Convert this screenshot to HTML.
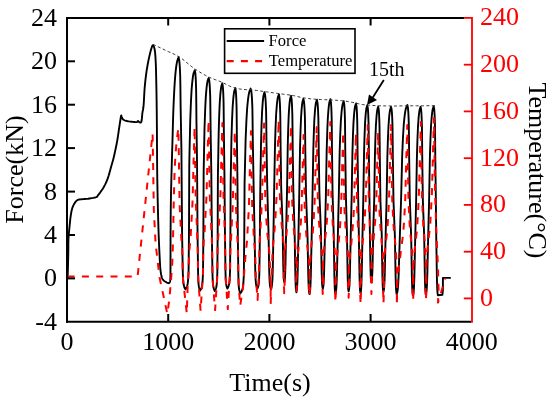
<!DOCTYPE html>
<html><head><meta charset="utf-8"><title>Force and Temperature vs Time</title>
<style>html,body{margin:0;padding:0;background:#fff;}svg{display:block;}</style>
</head><body>
<svg width="550" height="401" viewBox="0 0 550 401">
<rect width="550" height="401" fill="#fff"/>
<polyline points="67.60,278.20 67.66,276.57 67.74,274.28 67.83,271.60 67.92,268.75 68.00,266.00 68.07,263.31 68.13,260.51 68.19,257.66 68.25,254.80 68.30,252.00 68.33,249.25 68.34,246.53 68.35,243.81 68.40,241.11 68.50,238.40 68.68,235.62 68.92,232.78 69.19,229.97 69.46,227.31 69.70,224.90 69.90,222.79 70.09,220.90 70.27,219.18 70.47,217.53 70.70,215.90 70.95,214.27 71.21,212.70 71.50,211.18 71.82,209.75 72.20,208.40 72.65,207.13 73.15,205.93 73.69,204.82 74.25,203.80 74.80,202.90 75.35,202.12 75.90,201.44 76.46,200.87 77.03,200.39 77.60,200.00 78.10,199.73 78.53,199.60 79.00,199.54 79.62,199.49 80.50,199.40 81.69,199.28 83.14,199.17 84.73,199.04 86.38,198.89 88.00,198.70 89.70,198.45 91.55,198.16 93.37,197.84 94.98,197.51 96.20,197.20 96.91,196.94 97.22,196.71 97.33,196.46 97.42,196.14 97.70,195.70 98.17,195.11 98.72,194.42 99.30,193.64 99.91,192.83 100.50,192.00 101.09,191.17 101.70,190.31 102.30,189.41 102.91,188.48 103.50,187.50 104.08,186.48 104.65,185.42 105.22,184.32 105.77,183.18 106.30,182.00 106.80,180.80 107.28,179.59 107.75,178.33 108.22,176.98 108.70,175.50 109.19,173.86 109.69,172.08 110.20,170.22 110.70,168.34 111.20,166.50 111.70,164.72 112.21,162.97 112.71,161.21 113.21,159.40 113.70,157.50 114.18,155.46 114.67,153.31 115.14,151.13 115.59,149.00 116.00,147.00 116.37,145.19 116.70,143.50 117.01,141.88 117.30,140.23 117.60,138.50 117.89,136.65 118.18,134.72 118.46,132.78 118.73,130.85 119.00,129.00 119.27,127.18 119.55,125.36 119.81,123.60 120.07,121.96 120.30,120.50 120.51,119.16 120.69,117.89 120.87,116.79 121.03,115.96 121.20,115.50 121.35,115.53 121.47,115.98 121.60,116.68 121.76,117.41 122.00,118.00 122.29,118.44 122.62,118.87 123.00,119.28 123.45,119.66 124.00,120.00 124.64,120.30 125.36,120.56 126.16,120.79 127.04,121.00 128.00,121.20 129.12,121.40 130.40,121.59 131.72,121.76 132.96,121.90 134.00,122.00 134.82,122.07 135.51,122.11 136.09,122.11 136.58,122.08 137.00,122.00 137.32,121.83 137.52,121.57 137.67,121.29 137.81,121.08 138.00,121.00 138.25,121.11 138.53,121.36 138.81,121.68 139.11,121.98 139.40,122.20 139.70,122.36 140.03,122.52 140.35,122.62 140.64,122.63 140.90,122.50 141.11,122.25 141.28,121.92 141.42,121.46 141.56,120.83 141.70,120.00 141.84,118.90 141.96,117.56 142.09,116.07 142.23,114.52 142.40,113.00 142.61,111.67 142.85,110.46 143.10,109.15 143.36,107.50 143.60,105.30 143.82,102.34 144.01,98.77 144.21,94.89 144.44,91.00 144.70,87.40 145.01,84.08 145.34,80.85 145.70,77.70 146.09,74.65 146.50,71.70 146.94,68.83 147.42,66.03 147.91,63.35 148.41,60.79 148.90,58.40 149.39,56.13 149.89,53.96 150.38,51.95 150.86,50.18 151.30,48.70 151.70,47.47 152.06,46.45 152.41,45.70 152.75,45.30 153.10,45.30 153.47,45.74 153.86,46.57 154.24,47.76 154.60,49.25 154.90,51.00 155.14,53.04 155.34,55.39 155.51,58.02 155.66,60.91 155.80,64.00 155.93,67.43 156.04,71.22 156.13,75.19 156.22,79.14 156.30,82.90 156.37,86.26 156.43,89.35 156.49,92.46 156.54,95.91 156.60,100.00 156.66,104.52 156.72,109.26 156.77,114.55 156.83,120.69 156.90,128.00 156.96,136.90 157.01,147.17 157.08,158.19 157.17,169.34 157.30,180.00 157.49,190.42 157.71,201.01 157.97,211.39 158.23,221.18 158.50,230.00 158.78,237.92 159.08,245.20 159.38,251.72 159.66,257.36 159.90,262.00 160.08,265.33 160.22,267.42 160.33,268.76 160.45,269.79 160.60,271.00 160.77,272.36 160.96,273.56 161.16,274.63 161.37,275.60 161.60,276.50 161.82,277.31 162.03,278.02 162.27,278.64 162.58,279.23 163.00,279.80 163.59,280.38 164.31,280.93 165.09,281.45 165.85,281.92 166.50,282.30 167.06,282.60 167.58,282.82 168.04,282.98 168.42,283.10 168.70,283.20 168.87,283.06 169.13,282.90 169.41,282.67 169.69,282.32 169.90,281.80 170.05,281.25 170.17,280.71 170.26,279.96 170.34,278.80 170.40,277.00 170.45,274.59 170.47,271.70 170.48,268.32 170.49,264.43 170.50,260.00 170.52,254.83 170.53,248.94 170.55,242.62 170.57,236.21 170.60,230.00 170.64,224.00 170.69,218.00 170.74,212.00 170.81,206.00 170.90,200.00 171.01,194.00 171.14,188.00 171.29,182.00 171.44,176.00 171.60,170.00 171.77,163.97 171.95,157.90 172.14,151.86 172.32,145.87 172.50,140.00 172.66,134.21 172.81,128.46 172.96,122.82 173.12,117.31 173.30,112.00 173.50,106.82 173.71,101.73 173.94,96.83 174.17,92.22 174.40,88.00 174.63,84.18 174.87,80.71 175.11,77.55 175.35,74.66 175.60,72.00 175.85,69.62 176.10,67.54 176.35,65.69 176.62,64.03 176.90,62.50 177.23,61.07 177.60,59.79 177.96,58.67 178.28,57.77 178.50,57.10 178.53,57.22 178.61,57.58 178.76,58.18 178.95,59.02 179.21,60.10 179.34,61.41 179.50,62.95 179.64,64.72 179.79,66.72 179.90,68.93 180.01,71.37 180.13,74.01 180.24,76.86 180.28,79.91 180.34,83.15 180.39,86.58 180.44,90.19 180.48,93.97 180.53,97.92 180.57,102.02 180.62,106.27 180.70,110.66 180.78,115.17 180.87,119.81 180.95,124.56 181.04,129.41 181.13,134.35 181.23,139.38 181.32,144.47 181.42,149.62 181.47,154.82 181.51,160.06 181.55,165.32 181.59,170.61 181.63,175.89 181.67,181.18 181.71,186.44 181.75,191.68 181.79,196.88 181.83,202.03 181.87,207.12 181.91,212.15 181.94,217.09 181.98,221.94 182.02,226.69 182.05,231.32 182.13,235.84 182.21,240.23 182.28,244.48 182.36,248.58 182.43,252.53 182.49,256.31 182.56,259.92 182.62,263.35 182.68,266.59 182.73,269.64 182.80,272.49 182.90,275.13 183.00,277.57 183.11,279.78 183.31,281.78 183.49,283.55 183.76,285.09 184.12,286.40 184.43,287.48 184.85,288.32 185.16,288.92 185.34,289.28 185.40,289.40 185.47,289.29 185.68,288.95 186.04,288.38 186.53,287.59 186.91,286.57 187.31,285.34 187.67,283.88 187.85,282.21 188.06,280.33 188.23,278.23 188.34,275.94 188.47,273.44 188.59,270.76 188.62,267.88 188.65,264.82 188.68,261.58 188.72,258.18 188.75,254.61 188.79,250.88 188.83,247.01 188.87,243.00 188.92,238.86 188.96,234.60 189.00,230.22 189.02,225.74 189.04,221.17 189.06,216.50 189.07,211.76 189.09,206.96 189.11,202.10 189.13,197.19 189.16,192.25 189.18,187.28 189.20,182.29 189.22,177.31 189.24,172.32 189.26,167.35 189.31,162.41 189.42,157.50 189.52,152.64 189.63,147.84 189.73,143.10 189.84,138.43 189.94,133.86 190.04,129.38 190.13,125.00 190.23,120.74 190.38,116.60 190.53,112.59 190.68,108.72 190.82,104.99 190.97,101.42 191.15,98.02 191.32,94.78 191.49,91.72 191.65,88.84 191.90,86.16 192.13,83.66 192.34,81.37 192.58,79.27 192.84,77.39 193.09,75.72 193.36,74.26 193.63,73.03 194.05,72.01 194.38,71.22 194.61,70.65 194.75,70.31 194.80,70.20 194.82,70.31 194.88,70.66 194.99,71.23 195.13,72.02 195.32,73.04 195.43,74.29 195.54,75.75 195.65,77.43 195.76,79.32 195.86,81.43 195.94,83.73 196.02,86.24 196.12,88.95 196.16,91.84 196.19,94.92 196.23,98.17 196.27,101.59 196.31,105.18 196.34,108.93 196.37,112.82 196.41,116.85 196.45,121.01 196.51,125.30 196.57,129.70 196.64,134.21 196.70,138.81 196.77,143.50 196.83,148.26 196.90,153.09 196.97,157.98 197.04,162.91 197.09,167.88 197.12,172.88 197.15,177.89 197.19,182.91 197.22,187.92 197.26,192.92 197.29,197.89 197.32,202.82 197.36,207.71 197.39,212.54 197.42,217.30 197.46,221.99 197.49,226.59 197.52,231.10 197.57,235.50 197.63,239.79 197.68,243.95 197.74,247.98 197.79,251.87 197.84,255.62 197.89,259.21 197.94,262.63 197.98,265.88 198.02,268.96 198.06,271.85 198.13,274.56 198.20,277.07 198.27,279.37 198.38,281.48 198.52,283.37 198.65,285.05 198.89,286.51 199.15,287.76 199.39,288.78 199.70,289.57 199.92,290.14 200.06,290.49 200.10,290.60 200.16,290.49 200.35,290.16 200.66,289.61 201.10,288.84 201.46,287.86 201.81,286.66 202.16,285.24 202.32,283.62 202.51,281.80 202.67,279.77 202.77,277.54 202.89,275.12 203.01,272.51 203.04,269.72 203.06,266.75 203.09,263.61 203.13,260.30 203.16,256.84 203.19,253.23 203.23,249.47 203.27,245.58 203.30,241.56 203.34,237.43 203.38,233.18 203.40,228.83 203.42,224.39 203.44,219.86 203.46,215.27 203.48,210.60 203.50,205.89 203.52,201.13 203.54,196.33 203.56,191.51 203.58,186.67 203.60,181.83 203.62,176.99 203.64,172.17 203.73,167.37 203.83,162.61 203.92,157.90 204.02,153.23 204.11,148.64 204.20,144.11 204.29,139.67 204.38,135.32 204.46,131.07 204.56,126.94 204.70,122.92 204.84,119.03 204.97,115.27 205.10,111.66 205.24,108.20 205.40,104.89 205.56,101.75 205.70,98.78 205.87,95.99 206.09,93.38 206.29,90.96 206.48,88.73 206.70,86.70 206.93,84.88 207.16,83.26 207.40,81.84 207.66,80.64 208.03,79.66 208.32,78.89 208.53,78.34 208.66,78.01 208.70,77.90 208.72,78.01 208.79,78.34 208.91,78.89 209.07,79.66 209.28,80.65 209.41,81.85 209.54,83.27 209.66,84.89 209.79,86.72 209.90,88.75 209.99,90.99 210.09,93.41 210.19,96.03 210.25,98.82 210.29,101.80 210.34,104.94 210.38,108.26 210.42,111.72 210.46,115.34 210.50,119.11 210.54,123.00 210.58,127.03 210.64,131.17 210.71,135.43 210.78,139.79 210.85,144.24 210.92,148.77 211.00,153.38 211.08,158.05 211.15,162.77 211.23,167.54 211.31,172.35 211.35,177.18 211.39,182.02 211.43,186.88 211.48,191.72 211.52,196.55 211.56,201.36 211.60,206.13 211.64,210.85 211.69,215.52 211.73,220.13 211.77,224.66 211.81,229.11 211.85,233.47 211.91,237.72 211.98,241.87 212.04,245.90 212.10,249.79 212.16,253.56 212.22,257.18 212.27,260.64 212.33,263.96 212.38,267.10 212.42,270.08 212.47,272.87 212.55,275.49 212.63,277.91 212.71,280.15 212.84,282.18 213.01,284.01 213.15,285.63 213.44,287.05 213.72,288.25 214.01,289.24 214.35,290.01 214.60,290.56 214.75,290.89 214.80,291.00 214.85,290.89 215.01,290.57 215.28,290.03 215.65,289.28 215.97,288.32 216.27,287.15 216.58,285.77 216.72,284.19 216.88,282.40 217.03,280.42 217.12,278.25 217.22,275.88 217.32,273.33 217.36,270.61 217.38,267.71 217.41,264.64 217.43,261.41 217.46,258.03 217.49,254.51 217.52,250.84 217.55,247.04 217.58,243.11 217.62,239.07 217.65,234.93 217.68,230.68 217.69,226.34 217.71,221.93 217.73,217.44 217.75,212.88 217.77,208.28 217.78,203.63 217.80,198.95 217.82,194.24 217.84,189.51 217.86,184.79 217.88,180.06 217.92,175.35 218.00,170.67 218.09,166.02 218.17,161.42 218.25,156.86 218.33,152.37 218.40,147.96 218.48,143.62 218.55,139.37 218.63,135.22 218.73,131.19 218.85,127.26 218.96,123.46 219.07,119.79 219.18,116.27 219.31,112.89 219.45,109.66 219.58,106.59 219.70,103.69 219.86,100.97 220.05,98.42 220.22,96.05 220.38,93.88 220.58,91.90 220.78,90.11 220.98,88.53 221.18,87.15 221.41,85.98 221.73,85.02 221.98,84.27 222.16,83.73 222.26,83.41 222.30,83.30 222.32,83.41 222.37,83.73 222.47,84.26 222.60,85.00 222.76,85.95 222.89,87.11 222.99,88.47 223.09,90.03 223.19,91.80 223.29,93.76 223.36,95.91 223.44,98.24 223.52,100.76 223.59,103.46 223.62,106.32 223.66,109.35 223.69,112.54 223.73,115.89 223.76,119.37 223.79,123.00 223.82,126.75 223.85,130.63 223.89,134.62 223.95,138.72 224.01,142.92 224.06,147.21 224.12,151.57 224.18,156.01 224.25,160.51 224.31,165.07 224.37,169.66 224.43,174.29 224.49,178.94 224.53,183.61 224.57,188.29 224.61,192.96 224.65,197.61 224.69,202.24 224.72,206.83 224.76,211.39 224.80,215.89 224.84,220.33 224.88,224.69 224.91,228.98 224.96,233.18 225.01,237.27 225.07,241.27 225.12,245.15 225.17,248.90 225.21,252.53 225.26,256.01 225.30,259.36 225.34,262.55 225.38,265.58 225.42,268.44 225.47,271.14 225.54,273.66 225.60,275.99 225.66,278.14 225.79,280.10 225.92,281.87 226.04,283.43 226.29,284.79 226.52,285.95 226.76,286.90 227.04,287.64 227.24,288.17 227.36,288.49 227.40,288.60 227.45,288.50 227.62,288.18 227.89,287.67 228.27,286.94 228.60,286.01 228.91,284.88 229.26,283.55 229.41,282.02 229.57,280.30 229.73,278.39 229.82,276.29 229.92,274.01 230.03,271.55 230.09,268.91 230.11,266.12 230.14,263.15 230.16,260.04 230.19,256.78 230.22,253.37 230.25,249.83 230.28,246.16 230.32,242.37 230.35,238.47 230.39,234.47 230.42,230.37 230.44,226.19 230.46,221.92 230.48,217.59 230.50,213.19 230.53,208.75 230.55,204.26 230.57,199.74 230.59,195.19 230.61,190.63 230.63,186.07 230.66,181.51 230.75,176.96 230.83,172.44 230.91,167.95 231.00,163.51 231.08,159.11 231.16,154.78 231.24,150.51 231.31,146.33 231.39,142.23 231.46,138.22 231.59,134.33 231.71,130.54 231.83,126.87 231.94,123.33 232.05,119.92 232.20,116.66 232.34,113.55 232.47,110.58 232.60,107.79 232.78,105.15 232.97,102.69 233.15,100.41 233.31,98.31 233.52,96.40 233.72,94.68 233.94,93.15 234.14,91.82 234.40,90.69 234.72,89.76 234.97,89.03 235.16,88.52 235.26,88.20 235.30,88.10 235.32,88.21 235.37,88.53 235.47,89.06 235.60,89.80 235.76,90.75 235.89,91.91 235.99,93.27 236.09,94.83 236.19,96.60 236.29,98.56 236.36,100.71 236.44,103.04 236.52,105.56 236.59,108.26 236.62,111.12 236.66,114.15 236.69,117.34 236.73,120.69 236.76,124.17 236.79,127.80 236.82,131.55 236.85,135.43 236.89,139.42 236.95,143.52 237.01,147.72 237.06,152.01 237.12,156.37 237.18,160.81 237.25,165.31 237.31,169.87 237.37,174.46 237.43,179.09 237.49,183.74 237.52,188.41 237.55,193.09 237.58,197.76 237.61,202.41 237.64,207.04 237.67,211.63 237.70,216.19 237.73,220.69 237.76,225.13 237.79,229.49 237.81,233.78 237.86,237.98 237.91,242.07 237.97,246.07 238.02,249.95 238.07,253.70 238.11,257.33 238.16,260.81 238.20,264.16 238.24,267.35 238.28,270.38 238.32,273.24 238.37,275.94 238.44,278.46 238.50,280.79 238.56,282.94 238.69,284.90 238.82,286.67 238.94,288.23 239.19,289.59 239.42,290.75 239.66,291.70 239.94,292.44 240.14,292.97 240.26,293.29 240.30,293.40 240.37,293.29 240.59,292.98 240.96,292.45 241.47,291.71 241.91,290.76 242.32,289.60 242.77,288.24 242.96,286.68 243.17,284.92 243.38,282.97 243.51,280.82 243.64,278.49 243.78,275.98 243.84,273.29 243.87,270.43 243.91,267.41 243.95,264.23 243.98,260.89 244.02,257.41 244.07,253.80 244.11,250.05 244.15,246.18 244.20,242.20 244.25,238.11 244.29,233.92 244.31,229.65 244.34,225.29 244.36,220.86 244.39,216.38 244.41,211.83 244.44,207.25 244.47,202.63 244.49,197.99 244.52,193.33 244.55,188.67 244.57,184.01 244.66,179.37 244.77,174.75 244.88,170.17 245.00,165.62 245.10,161.14 245.21,156.71 245.32,152.35 245.42,148.08 245.52,143.89 245.62,139.80 245.77,135.82 245.94,131.95 246.09,128.20 246.25,124.59 246.40,121.11 246.58,117.77 246.77,114.59 246.95,111.57 247.12,108.71 247.34,106.02 247.60,103.51 247.84,101.18 248.06,99.03 248.33,97.08 248.60,95.32 248.88,93.76 249.16,92.40 249.49,91.24 249.92,90.29 250.26,89.55 250.51,89.02 250.65,88.71 250.70,88.60 250.72,88.70 250.80,89.01 250.91,89.53 251.08,90.25 251.29,91.18 251.46,92.31 251.59,93.64 251.73,95.16 251.85,96.88 251.99,98.79 252.08,100.89 252.18,103.17 252.29,105.62 252.38,108.25 252.43,111.04 252.47,113.99 252.52,117.10 252.57,120.36 252.61,123.76 252.65,127.29 252.69,130.95 252.73,134.73 252.77,138.62 252.84,142.62 252.91,146.71 252.99,150.89 253.07,155.15 253.14,159.47 253.22,163.86 253.30,168.29 253.38,172.77 253.46,177.29 253.54,181.82 253.63,186.37 253.72,190.93 253.81,195.48 253.90,200.01 253.99,204.53 254.08,209.01 254.17,213.44 254.25,217.83 254.34,222.15 254.42,226.41 254.51,230.59 254.58,234.68 254.66,238.67 254.73,242.57 254.80,246.35 254.87,250.01 254.93,253.54 254.99,256.94 255.05,260.20 255.11,263.31 255.17,266.26 255.22,269.05 255.28,271.68 255.38,274.13 255.46,276.41 255.54,278.51 255.69,280.42 255.83,282.14 255.95,283.66 256.23,284.99 256.47,286.12 256.73,287.05 257.03,287.77 257.23,288.29 257.36,288.60 257.40,288.70 257.44,288.60 257.56,288.29 257.75,287.78 258.02,287.08 258.27,286.17 258.49,285.06 258.75,283.75 258.86,282.25 258.99,280.57 259.12,278.69 259.20,276.63 259.28,274.40 259.37,271.99 259.43,269.41 259.47,266.66 259.50,263.76 259.54,260.71 259.58,257.51 259.62,254.17 259.66,250.70 259.71,247.11 259.75,243.40 259.80,239.57 259.85,235.65 259.89,231.63 259.94,227.53 259.97,223.35 260.01,219.10 260.06,214.80 260.10,210.44 260.14,206.04 260.18,201.61 260.22,197.15 260.26,192.69 260.30,188.21 260.36,183.75 260.44,179.29 260.51,174.86 260.58,170.46 260.66,166.10 260.73,161.80 260.80,157.55 260.87,153.37 260.94,149.27 261.00,145.25 261.08,141.32 261.19,137.50 261.30,133.79 261.40,130.20 261.50,126.73 261.61,123.39 261.74,120.19 261.86,117.14 261.98,114.24 262.09,111.49 262.26,108.91 262.43,106.50 262.58,104.27 262.72,102.21 262.92,100.33 263.10,98.65 263.29,97.15 263.47,95.84 263.71,94.73 263.99,93.82 264.21,93.12 264.37,92.61 264.47,92.30 264.50,92.20 264.52,92.30 264.59,92.61 264.70,93.12 264.86,93.83 265.06,94.75 265.22,95.86 265.34,97.17 265.47,98.67 265.59,100.37 265.73,102.25 265.81,104.32 265.91,106.56 266.01,108.98 266.11,111.57 266.15,114.33 266.19,117.24 266.23,120.30 266.28,123.52 266.32,126.87 266.35,130.35 266.39,133.96 266.43,137.69 266.47,141.52 266.53,145.46 266.60,149.50 266.67,153.62 266.74,157.81 266.82,162.08 266.89,166.40 266.97,170.78 267.04,175.20 267.12,179.65 267.19,184.12 267.30,188.60 267.42,193.10 267.54,197.58 267.67,202.05 267.79,206.50 267.91,210.92 268.04,215.30 268.16,219.62 268.27,223.89 268.39,228.08 268.50,232.20 268.57,236.24 268.65,240.18 268.72,244.01 268.79,247.74 268.86,251.35 268.92,254.83 268.99,258.18 269.05,261.40 269.10,264.46 269.16,267.37 269.21,270.13 269.28,272.72 269.37,275.14 269.44,277.38 269.52,279.45 269.63,281.33 269.74,283.03 269.84,284.53 270.04,285.84 270.22,286.95 270.41,287.87 270.63,288.58 270.78,289.09 270.87,289.40 270.90,289.50 270.93,289.40 271.03,289.10 271.20,288.59 271.44,287.89 271.65,286.98 271.84,285.88 272.06,284.58 272.18,283.10 272.29,281.42 272.43,279.56 272.51,277.51 272.59,275.29 272.69,272.90 272.76,270.33 272.82,267.61 272.87,264.73 272.93,261.69 272.98,258.52 273.05,255.20 273.11,251.75 273.18,248.18 273.25,244.50 273.32,240.70 273.39,236.80 273.46,232.81 273.53,228.74 273.60,224.58 273.67,220.36 273.74,216.09 273.81,211.76 273.88,207.39 273.95,202.99 274.03,198.56 274.10,194.12 274.17,189.68 274.25,185.24 274.33,180.81 274.42,176.41 274.50,172.04 274.58,167.71 274.66,163.44 274.74,159.22 274.82,155.06 274.89,150.99 274.97,147.00 275.06,143.10 275.18,139.30 275.30,135.62 275.42,132.05 275.53,128.60 275.65,125.28 275.80,122.11 275.93,119.07 276.06,116.19 276.19,113.47 276.38,110.90 276.57,108.51 276.74,106.29 276.91,104.24 277.13,102.38 277.32,100.70 277.54,99.22 277.74,97.92 278.01,96.82 278.33,95.91 278.58,95.21 278.76,94.70 278.86,94.40 278.90,94.30 278.92,94.40 278.97,94.69 279.06,95.18 279.19,95.85 279.35,96.73 279.49,97.79 279.59,99.03 279.70,100.47 279.80,102.08 279.91,103.88 279.99,105.84 280.06,107.98 280.14,110.29 280.23,112.76 280.28,115.38 280.31,118.16 280.35,121.08 280.38,124.14 280.42,127.33 280.45,130.65 280.48,134.09 280.51,137.64 280.54,141.30 280.58,145.05 280.63,148.90 280.69,152.82 280.75,156.82 280.81,160.89 280.87,165.01 280.93,169.18 280.99,173.38 281.05,177.62 281.11,181.89 281.17,186.16 281.28,190.44 281.44,194.71 281.60,198.98 281.76,203.22 281.92,207.42 282.08,211.59 282.23,215.71 282.38,219.78 282.53,223.78 282.61,227.70 282.68,231.55 282.74,235.30 282.80,238.96 282.86,242.51 282.92,245.95 282.97,249.27 283.03,252.46 283.08,255.52 283.13,258.44 283.18,261.22 283.22,263.84 283.29,266.31 283.36,268.62 283.42,270.76 283.48,272.72 283.55,274.52 283.62,276.13 283.69,277.57 283.80,278.81 283.90,279.87 284.02,280.75 284.14,281.42 284.23,281.91 284.28,282.20 284.30,282.30 284.32,282.20 284.38,281.91 284.47,281.43 284.60,280.76 284.73,279.89 284.84,278.84 284.96,277.60 285.04,276.18 285.12,274.58 285.21,272.80 285.28,270.85 285.35,268.72 285.42,266.44 285.49,263.99 285.54,261.39 285.59,258.63 285.65,255.73 285.71,252.70 285.77,249.53 285.84,246.24 285.91,242.83 285.97,239.30 286.05,235.67 286.12,231.95 286.19,228.14 286.27,224.24 286.36,220.28 286.45,216.25 286.55,212.16 286.64,208.02 286.74,203.85 286.83,199.64 286.93,195.41 287.03,191.17 287.10,186.93 287.17,182.69 287.24,178.46 287.30,174.25 287.37,170.08 287.43,165.94 287.50,161.85 287.56,157.82 287.62,153.86 287.68,149.96 287.74,146.15 287.84,142.42 287.94,138.80 288.04,135.27 288.13,131.86 288.22,128.57 288.33,125.40 288.45,122.37 288.56,119.47 288.66,116.71 288.78,114.11 288.94,111.66 289.09,109.38 289.23,107.25 289.37,105.30 289.55,103.52 289.71,101.92 289.89,100.50 290.05,99.26 290.29,98.21 290.54,97.34 290.74,96.67 290.89,96.19 290.97,95.90 291.00,95.80 291.02,95.90 291.08,96.21 291.17,96.72 291.30,97.42 291.47,98.33 291.61,99.44 291.71,100.75 291.82,102.25 291.92,103.93 292.03,105.81 292.11,107.87 292.18,110.10 292.27,112.51 292.35,115.09 292.39,117.84 292.42,120.74 292.46,123.79 292.50,126.99 292.53,130.33 292.56,133.80 292.59,137.39 292.63,141.10 292.66,144.92 292.71,148.85 292.77,152.87 292.83,156.97 292.89,161.15 292.95,165.40 293.01,169.70 293.08,174.06 293.14,178.46 293.20,182.89 293.27,187.35 293.36,191.81 293.50,196.29 293.64,200.75 293.77,205.21 293.90,209.64 294.04,214.04 294.17,218.40 294.30,222.70 294.43,226.95 294.56,231.13 294.67,235.23 294.74,239.25 294.80,243.17 294.87,247.00 294.93,250.71 294.99,254.30 295.05,257.77 295.11,261.11 295.16,264.31 295.21,267.36 295.26,270.26 295.31,273.01 295.37,275.59 295.44,278.00 295.50,280.23 295.57,282.29 295.64,284.17 295.71,285.85 295.77,287.35 295.89,288.66 295.99,289.77 296.11,290.68 296.24,291.38 296.33,291.89 296.38,292.20 296.40,292.30 296.42,292.20 296.48,291.90 296.59,291.40 296.73,290.70 296.86,289.80 296.98,288.71 297.11,287.43 297.19,285.95 297.28,284.29 297.37,282.44 297.44,280.42 297.51,278.22 297.59,275.84 297.66,273.30 297.71,270.60 297.77,267.74 297.83,264.74 297.90,261.59 297.96,258.30 298.04,254.88 298.11,251.34 298.18,247.69 298.26,243.92 298.34,240.06 298.42,236.11 298.50,232.07 298.58,227.95 298.67,223.77 298.75,219.53 298.84,215.23 298.92,210.90 299.01,206.54 299.10,202.15 299.18,197.75 299.27,193.35 299.35,188.95 299.42,184.56 299.49,180.20 299.56,175.87 299.63,171.57 299.70,167.33 299.77,163.15 299.84,159.03 299.90,154.99 299.97,151.04 300.05,147.17 300.16,143.41 300.26,139.76 300.36,136.22 300.46,132.80 300.57,129.51 300.69,126.36 300.81,123.36 300.93,120.50 301.03,117.80 301.21,115.26 301.37,112.88 301.52,110.68 301.66,108.66 301.85,106.81 302.03,105.15 302.22,103.67 302.39,102.39 302.63,101.30 302.91,100.40 303.12,99.70 303.28,99.20 303.37,98.90 303.40,98.80 303.42,98.90 303.48,99.20 303.59,99.71 303.74,100.41 303.93,101.32 304.08,102.42 304.20,103.72 304.32,105.21 304.44,106.88 304.56,108.75 304.65,110.79 304.73,113.02 304.83,115.41 304.93,117.98 304.97,120.70 305.00,123.59 305.05,126.62 305.09,129.80 305.13,133.12 305.16,136.56 305.20,140.14 305.23,143.83 305.27,147.62 305.33,151.52 305.39,155.52 305.46,159.60 305.53,163.75 305.60,167.97 305.67,172.25 305.74,176.58 305.81,180.95 305.88,185.36 305.95,189.79 306.05,194.23 306.21,198.67 306.36,203.11 306.52,207.54 306.68,211.95 306.83,216.32 306.98,220.65 307.13,224.93 307.28,229.15 307.43,233.30 307.55,237.38 307.63,241.38 307.70,245.27 307.77,249.07 307.84,252.76 307.91,256.34 307.98,259.78 308.04,263.10 308.10,266.28 308.16,269.31 308.21,272.20 308.27,274.92 308.34,277.49 308.42,279.88 308.49,282.11 308.56,284.15 308.64,286.02 308.72,287.69 308.79,289.18 308.93,290.48 309.04,291.58 309.17,292.49 309.32,293.19 309.42,293.70 309.48,294.00 309.50,294.10 309.52,294.00 309.59,293.70 309.70,293.19 309.85,292.49 309.99,291.59 310.11,290.50 310.25,289.20 310.34,287.72 310.43,286.05 310.53,284.20 310.60,282.16 310.67,279.95 310.76,277.56 310.83,275.01 310.89,272.30 310.95,269.43 311.02,266.41 311.09,263.24 311.16,259.94 311.23,256.51 311.31,252.95 311.39,249.28 311.47,245.50 311.56,241.62 311.64,237.64 311.73,233.59 311.81,229.45 311.90,225.25 311.99,220.99 312.08,216.68 312.16,212.32 312.25,207.94 312.35,203.53 312.44,199.11 312.53,194.69 312.61,190.27 312.68,185.86 312.76,181.48 312.83,177.12 312.91,172.81 312.98,168.55 313.06,164.35 313.13,160.21 313.20,156.16 313.27,152.18 313.35,148.30 313.47,144.52 313.58,140.85 313.68,137.29 313.79,133.86 313.90,130.56 314.03,127.39 314.16,124.37 314.28,121.50 314.39,118.79 314.58,116.24 314.75,113.85 314.91,111.64 315.06,109.60 315.26,107.75 315.44,106.08 315.65,104.60 315.83,103.30 316.08,102.21 316.38,101.31 316.60,100.61 316.77,100.10 316.87,99.80 316.90,99.70 316.92,99.80 316.98,100.09 317.08,100.58 317.22,101.26 317.39,102.14 317.55,103.21 317.66,104.46 317.78,105.90 317.89,107.53 318.00,109.33 318.09,111.31 318.17,113.46 318.26,115.78 318.36,118.27 318.40,120.91 318.44,123.70 318.48,126.64 318.52,129.71 318.56,132.93 318.59,136.27 318.63,139.72 318.66,143.30 318.70,146.97 318.74,150.75 318.80,154.62 318.86,158.57 318.93,162.59 318.99,166.67 319.06,170.82 319.12,175.01 319.19,179.25 319.26,183.51 319.32,187.80 319.39,192.10 319.52,196.40 319.69,200.70 319.86,204.99 320.03,209.25 320.20,213.49 320.37,217.68 320.53,221.83 320.70,225.91 320.86,229.93 320.95,233.88 321.02,237.75 321.09,241.52 321.16,245.20 321.22,248.78 321.29,252.23 321.35,255.57 321.41,258.79 321.46,261.86 321.52,264.80 321.57,267.59 321.62,270.23 321.69,272.72 321.77,275.04 321.84,277.19 321.90,279.17 321.98,280.97 322.05,282.60 322.13,284.04 322.26,285.29 322.37,286.36 322.49,287.24 322.63,287.92 322.72,288.41 322.78,288.70 322.80,288.80 322.82,288.70 322.89,288.41 323.00,287.92 323.15,287.23 323.30,286.35 323.42,285.28 323.56,284.02 323.65,282.58 323.74,280.95 323.84,279.14 323.92,277.15 323.99,274.99 324.08,272.66 324.16,270.17 324.21,267.53 324.28,264.73 324.34,261.78 324.41,258.69 324.48,255.47 324.56,252.12 324.64,248.65 324.72,245.06 324.80,241.38 324.88,237.59 324.97,233.71 325.06,229.75 325.16,225.71 325.25,221.61 325.35,217.45 325.45,213.25 325.55,209.00 325.65,204.72 325.76,200.42 325.86,196.11 325.95,191.79 326.03,187.48 326.11,183.18 326.18,178.90 326.26,174.65 326.33,170.45 326.41,166.29 326.48,162.19 326.55,158.15 326.62,154.19 326.69,150.31 326.79,146.52 326.91,142.84 327.02,139.25 327.13,135.78 327.23,132.43 327.35,129.21 327.48,126.12 327.61,123.17 327.73,120.37 327.86,117.73 328.04,115.24 328.22,112.91 328.38,110.75 328.54,108.76 328.74,106.95 328.92,105.32 329.13,103.88 329.32,102.62 329.58,101.55 329.87,100.67 330.10,99.98 330.27,99.49 330.37,99.20 330.40,99.10 330.42,99.20 330.47,99.50 330.56,100.01 330.68,100.71 330.84,101.62 330.97,102.72 331.07,104.01 331.17,105.50 331.27,107.17 331.37,109.03 331.44,111.07 331.51,113.29 331.59,115.69 331.68,118.25 331.71,120.97 331.74,123.85 331.78,126.88 331.81,130.05 331.84,133.36 331.87,136.81 331.90,140.37 331.93,144.06 331.96,147.85 332.01,151.74 332.07,155.73 332.12,159.80 332.18,163.95 332.23,168.16 332.29,172.44 332.35,176.76 332.41,181.13 332.47,185.53 332.53,189.95 332.61,194.38 332.73,198.82 332.85,203.25 332.97,207.67 333.09,212.07 333.21,216.44 333.33,220.76 333.45,225.04 333.56,229.25 333.68,233.40 333.77,237.47 333.84,241.46 333.90,245.35 333.96,249.14 334.02,252.83 334.07,256.39 334.13,259.84 334.18,263.15 334.23,266.32 334.28,269.35 334.33,272.23 334.37,274.95 334.43,277.51 334.49,279.91 334.56,282.13 334.62,284.17 334.68,286.03 334.75,287.70 334.81,289.19 334.92,290.48 335.02,291.58 335.13,292.49 335.25,293.19 335.33,293.70 335.38,294.00 335.40,294.10 335.42,294.00 335.50,293.70 335.62,293.20 335.79,292.50 335.95,291.61 336.08,290.52 336.24,289.24 336.34,287.77 336.44,286.12 336.55,284.27 336.63,282.25 336.71,280.06 336.80,277.69 336.89,275.16 336.95,272.47 337.02,269.62 337.10,266.62 337.17,263.48 337.25,260.21 337.34,256.80 337.42,253.27 337.51,249.63 337.60,245.88 337.70,242.02 337.79,238.08 337.89,234.05 337.99,229.95 338.09,225.78 338.19,221.55 338.29,217.27 338.39,212.95 338.50,208.60 338.60,204.23 338.71,199.85 338.81,195.45 338.90,191.07 338.98,186.70 339.07,182.35 339.15,178.03 339.23,173.75 339.32,169.52 339.40,165.35 339.48,161.25 339.56,157.22 339.63,153.28 339.73,149.43 339.86,145.67 339.98,142.03 340.10,138.50 340.22,135.09 340.35,131.82 340.49,128.68 340.64,125.68 340.77,122.83 340.90,120.14 341.10,117.61 341.30,115.24 341.47,113.05 341.65,111.03 341.87,109.18 342.07,107.53 342.30,106.06 342.51,104.78 342.79,103.69 343.12,102.80 343.37,102.10 343.55,101.60 343.66,101.30 343.70,101.20 343.72,101.30 343.77,101.59 343.86,102.09 343.98,102.77 344.13,103.65 344.26,104.73 344.36,105.99 344.46,107.44 344.56,109.07 344.66,110.89 344.73,112.88 344.80,115.04 344.88,117.38 344.96,119.87 345.00,122.53 345.03,125.34 345.07,128.29 345.10,131.39 345.14,134.62 345.16,137.98 345.19,141.46 345.22,145.05 345.25,148.75 345.29,152.55 345.35,156.44 345.40,160.41 345.46,164.45 345.51,168.56 345.57,172.73 345.63,176.95 345.68,181.21 345.74,185.50 345.80,189.81 345.86,194.14 345.97,198.46 346.09,202.79 346.21,207.10 346.33,211.39 346.45,215.65 346.57,219.87 346.69,224.04 346.80,228.15 346.92,232.19 346.99,236.16 347.06,240.05 347.12,243.85 347.18,247.55 347.23,251.14 347.29,254.62 347.34,257.98 347.39,261.21 347.44,264.31 347.49,267.26 347.53,270.07 347.58,272.73 347.64,275.22 347.70,277.56 347.77,279.72 347.82,281.71 347.89,283.53 347.95,285.16 348.02,286.61 348.13,287.87 348.22,288.95 348.33,289.83 348.45,290.51 348.53,291.01 348.58,291.30 348.60,291.40 348.62,291.30 348.68,291.01 348.79,290.52 348.94,289.85 349.08,288.97 349.20,287.91 349.33,286.67 349.43,285.23 349.51,283.62 349.61,281.82 349.69,279.86 349.76,277.72 349.84,275.41 349.92,272.94 349.97,270.32 350.03,267.54 350.10,264.62 350.16,261.56 350.23,258.37 350.31,255.05 350.38,251.61 350.46,248.06 350.54,244.40 350.62,240.65 350.70,236.80 350.79,232.88 350.89,228.88 350.98,224.81 351.08,220.69 351.18,216.52 351.29,212.32 351.39,208.08 351.49,203.81 351.60,199.54 351.68,195.26 351.76,190.99 351.83,186.72 351.91,182.48 351.98,178.28 352.05,174.11 352.12,169.99 352.19,165.92 352.26,161.92 352.33,158.00 352.40,154.15 352.50,150.40 352.61,146.74 352.72,143.19 352.82,139.75 352.92,136.43 353.04,133.24 353.17,130.18 353.29,127.26 353.41,124.48 353.54,121.86 353.72,119.39 353.88,117.08 354.04,114.94 354.20,112.98 354.39,111.18 354.57,109.57 354.77,108.13 354.95,106.89 355.21,105.83 355.49,104.95 355.71,104.28 355.87,103.79 355.97,103.50 356.00,103.40 356.02,103.50 356.07,103.79 356.15,104.28 356.27,104.97 356.43,105.85 356.56,106.92 356.66,108.18 356.76,109.63 356.85,111.26 356.96,113.07 357.03,115.06 357.10,117.22 357.18,119.54 357.26,122.04 357.30,124.68 357.33,127.49 357.37,130.44 357.40,133.53 357.44,136.75 357.46,140.10 357.49,143.57 357.52,147.16 357.55,150.85 357.59,154.64 357.64,158.52 357.70,162.48 357.75,166.52 357.81,170.62 357.87,174.78 357.92,178.99 357.98,183.24 358.04,187.52 358.10,191.82 358.16,196.14 358.23,200.46 358.31,204.78 358.38,209.08 358.46,213.36 358.54,217.61 358.61,221.82 358.69,225.98 358.76,230.08 358.83,234.12 358.90,238.08 358.96,241.96 359.02,245.75 359.08,249.44 359.13,253.03 359.19,256.50 359.24,259.85 359.29,263.07 359.34,266.16 359.39,269.11 359.44,271.92 359.48,274.56 359.54,277.06 359.61,279.38 359.67,281.54 359.72,283.53 359.79,285.34 359.85,286.97 359.92,288.42 360.03,289.68 360.12,290.75 360.24,291.63 360.35,292.32 360.43,292.81 360.48,293.10 360.50,293.20 360.52,293.10 360.58,292.81 360.68,292.32 360.81,291.64 360.94,290.77 361.05,289.71 361.17,288.46 361.26,287.03 361.34,285.41 361.43,283.62 361.50,281.65 361.57,279.51 361.64,277.20 361.71,274.73 361.76,272.11 361.82,269.33 361.88,266.41 361.94,263.34 362.00,260.15 362.07,256.83 362.14,253.39 362.21,249.83 362.28,246.17 362.36,242.42 362.43,238.57 362.51,234.65 362.60,230.65 362.69,226.58 362.78,222.46 362.87,218.29 362.97,214.07 363.06,209.83 363.16,205.57 363.25,201.29 363.33,197.01 363.40,192.73 363.47,188.47 363.54,184.23 363.60,180.01 363.67,175.84 363.74,171.72 363.80,167.65 363.86,163.65 363.93,159.73 363.99,155.88 364.08,152.12 364.18,148.47 364.28,144.91 364.38,141.47 364.47,138.15 364.58,134.96 364.70,131.89 364.81,128.97 364.92,126.19 365.04,123.57 365.20,121.10 365.35,118.79 365.50,116.65 365.64,114.68 365.82,112.89 365.98,111.27 366.17,109.84 366.33,108.59 366.57,107.53 366.83,106.66 367.04,105.98 367.18,105.49 367.27,105.20 367.30,105.10 367.32,105.19 367.36,105.47 367.44,105.93 367.56,106.57 367.70,107.39 367.85,108.39 367.93,109.56 368.04,110.91 368.13,112.44 368.22,114.13 368.30,115.98 368.37,118.00 368.44,120.17 368.52,122.50 368.59,124.97 368.62,127.59 368.65,130.34 368.68,133.23 368.72,136.24 368.74,139.36 368.77,142.61 368.80,145.95 368.83,149.40 368.86,152.94 368.89,156.56 368.95,160.26 369.00,164.03 369.05,167.86 369.10,171.74 369.16,175.67 369.21,179.64 369.26,183.64 369.32,187.65 369.37,191.68 369.43,195.72 369.48,199.75 369.53,203.76 369.57,207.76 369.61,211.73 369.66,215.66 369.70,219.54 369.74,223.37 369.80,227.14 369.85,230.84 369.91,234.46 369.97,238.00 370.02,241.45 370.08,244.79 370.13,248.04 370.18,251.16 370.23,254.17 370.27,257.06 370.32,259.81 370.36,262.43 370.40,264.90 370.47,267.23 370.53,269.40 370.59,271.42 370.65,273.27 370.71,274.96 370.77,276.49 370.85,277.84 370.95,279.01 371.04,280.01 371.15,280.83 371.26,281.47 371.34,281.93 371.38,282.21 371.40,282.30 371.42,282.21 371.47,281.94 371.56,281.48 371.69,280.85 371.83,280.03 371.93,279.04 372.04,277.88 372.14,276.54 372.21,275.03 372.30,273.35 372.37,271.51 372.44,269.51 372.50,267.36 372.58,265.05 372.63,262.60 372.69,260.00 372.74,257.27 372.80,254.41 372.86,251.43 372.92,248.33 372.98,245.11 373.05,241.79 373.12,238.38 373.19,234.87 373.26,231.27 373.33,227.61 373.41,223.87 373.54,220.07 373.67,216.22 373.80,212.32 373.94,208.39 374.07,204.43 374.20,200.45 374.27,196.45 374.33,192.45 374.39,188.45 374.46,184.47 374.52,180.51 374.58,176.58 374.64,172.68 374.71,168.83 374.77,165.03 374.83,161.29 374.88,157.63 374.97,154.03 375.07,150.52 375.16,147.11 375.26,143.79 375.35,140.57 375.44,137.47 375.56,134.49 375.67,131.63 375.77,128.90 375.87,126.30 376.02,123.85 376.17,121.54 376.31,119.39 376.45,117.39 376.61,115.55 376.77,113.87 376.93,112.36 377.11,111.02 377.27,109.86 377.52,108.87 377.76,108.05 377.95,107.42 378.09,106.96 378.17,106.69 378.20,106.60 378.22,106.70 378.27,106.98 378.35,107.46 378.47,108.13 378.63,108.99 378.77,110.04 378.86,111.27 378.97,112.68 379.06,114.27 379.16,116.04 379.24,117.99 379.31,120.10 379.39,122.37 379.47,124.80 379.52,127.39 379.55,130.13 379.59,133.01 379.62,136.03 379.66,139.18 379.69,142.45 379.71,145.84 379.74,149.34 379.77,152.95 379.81,156.65 379.86,160.44 379.91,164.31 379.97,168.26 380.02,172.26 380.08,176.33 380.14,180.44 380.20,184.59 380.25,188.77 380.31,192.97 380.37,197.19 380.45,201.41 380.61,205.63 380.78,209.83 380.94,214.01 381.10,218.16 381.26,222.27 381.42,226.34 381.58,230.34 381.72,234.29 381.79,238.16 381.85,241.95 381.91,245.65 381.97,249.26 382.02,252.76 382.08,256.15 382.13,259.42 382.18,262.57 382.23,265.59 382.28,268.47 382.32,271.21 382.36,273.80 382.43,276.23 382.50,278.50 382.56,280.61 382.62,282.56 382.69,284.33 382.75,285.92 382.82,287.33 382.93,288.56 383.02,289.61 383.14,290.47 383.25,291.14 383.33,291.62 383.38,291.90 383.40,292.00 383.42,291.90 383.49,291.62 383.60,291.14 383.75,290.47 383.90,289.61 384.02,288.57 384.15,287.34 384.25,285.92 384.34,284.33 384.44,282.57 384.52,280.63 384.60,278.52 384.68,276.25 384.76,273.82 384.82,271.23 384.88,268.50 384.95,265.62 385.02,262.60 385.09,259.46 385.16,256.19 385.24,252.80 385.32,249.30 385.40,245.70 385.48,242.00 385.57,238.22 385.66,234.35 385.76,230.41 385.87,226.41 385.98,222.35 386.09,218.24 386.21,214.09 386.32,209.92 386.44,205.72 386.55,201.51 386.63,197.29 386.71,193.08 386.79,188.88 386.86,184.71 386.94,180.56 387.01,176.45 387.08,172.39 387.15,168.39 387.23,164.45 387.30,160.58 387.36,156.80 387.48,153.10 387.59,149.50 387.70,146.00 387.81,142.61 387.91,139.34 388.04,136.20 388.17,133.18 388.30,130.30 388.42,127.57 388.56,124.98 388.74,122.55 388.91,120.28 389.07,118.17 389.24,116.23 389.44,114.47 389.62,112.88 389.83,111.46 390.02,110.23 390.29,109.19 390.58,108.33 390.81,107.66 390.97,107.18 391.07,106.90 391.10,106.80 391.12,106.90 391.17,107.19 391.27,107.67 391.40,108.35 391.56,109.22 391.72,110.27 391.82,111.52 391.93,112.95 392.03,114.56 392.14,116.35 392.23,118.31 392.30,120.44 392.39,122.74 392.48,125.20 392.53,127.82 392.56,130.58 392.60,133.49 392.64,136.54 392.67,139.73 392.70,143.04 392.73,146.47 392.77,150.01 392.80,153.65 392.84,157.39 392.90,161.22 392.95,165.14 393.01,169.12 393.07,173.17 393.14,177.28 393.20,181.44 393.26,185.63 393.32,189.86 393.39,194.11 393.45,198.37 393.56,202.63 393.73,206.89 393.90,211.14 394.06,215.37 394.23,219.56 394.39,223.72 394.56,227.83 394.72,231.88 394.87,235.86 394.95,239.78 395.02,243.61 395.08,247.35 395.15,250.99 395.21,254.53 395.27,257.96 395.33,261.27 395.38,264.46 395.44,267.51 395.49,270.42 395.54,273.18 395.58,275.80 395.65,278.26 395.72,280.56 395.79,282.69 395.85,284.65 395.93,286.44 395.99,288.05 396.07,289.48 396.19,290.73 396.29,291.78 396.41,292.65 396.54,293.33 396.63,293.81 396.68,294.10 396.70,294.20 396.73,294.10 396.82,293.81 396.98,293.32 397.19,292.64 397.40,291.76 397.57,290.69 397.76,289.44 397.90,287.99 398.02,286.37 398.17,284.56 398.27,282.58 398.38,280.43 398.49,278.11 398.61,275.62 398.69,272.98 398.78,270.19 398.87,267.25 398.97,264.17 399.07,260.96 399.17,257.62 399.28,254.15 399.39,250.58 399.51,246.90 399.63,243.12 399.75,239.25 399.88,235.30 400.01,231.28 400.15,227.19 400.29,223.04 400.43,218.85 400.58,214.61 400.72,210.34 400.87,206.06 401.01,201.75 401.14,197.45 401.25,193.14 401.36,188.86 401.47,184.59 401.57,180.35 401.68,176.16 401.78,172.01 401.88,167.92 401.98,163.90 402.08,159.95 402.18,156.08 402.33,152.30 402.49,148.62 402.64,145.05 402.79,141.58 402.94,138.24 403.11,135.03 403.30,131.95 403.48,129.01 403.65,126.22 403.83,123.58 404.09,121.09 404.33,118.77 404.56,116.62 404.78,114.64 405.07,112.83 405.32,111.21 405.61,109.76 405.88,108.51 406.25,107.44 406.66,106.56 406.98,105.88 407.21,105.39 407.35,105.10 407.40,105.00 407.42,105.10 407.48,105.39 407.57,105.89 407.70,106.58 407.87,107.46 408.02,108.53 408.12,109.80 408.24,111.25 408.34,112.89 408.45,114.70 408.53,116.70 408.61,118.87 408.70,121.20 408.79,123.70 408.83,126.36 408.87,129.18 408.90,132.14 408.94,135.24 408.98,138.47 409.01,141.84 409.04,145.32 409.07,148.92 409.11,152.62 409.15,156.43 409.21,160.32 409.27,164.30 409.33,168.35 409.39,172.47 409.45,176.65 409.52,180.87 409.58,185.14 409.64,189.43 409.71,193.75 409.77,198.08 409.91,202.42 410.07,206.75 410.23,211.07 410.38,215.36 410.54,219.63 410.69,223.85 410.84,228.03 410.99,232.15 411.14,236.20 411.24,240.18 411.30,244.07 411.37,247.87 411.43,251.58 411.50,255.18 411.56,258.66 411.62,262.03 411.67,265.26 411.73,268.36 411.78,271.32 411.83,274.14 411.88,276.80 411.94,279.30 412.02,281.63 412.08,283.80 412.15,285.80 412.22,287.61 412.29,289.25 412.36,290.70 412.48,291.97 412.59,293.04 412.71,293.92 412.84,294.61 412.93,295.11 412.98,295.40 413.00,295.50 413.02,295.40 413.09,295.11 413.20,294.62 413.35,293.94 413.50,293.07 413.61,292.00 413.75,290.75 413.85,289.31 413.94,287.69 414.04,285.89 414.12,283.91 414.19,281.76 414.27,279.45 414.35,276.97 414.41,274.34 414.47,271.55 414.54,268.62 414.61,265.55 414.68,262.34 414.75,259.01 414.83,255.56 414.91,252.00 414.99,248.32 415.08,244.56 415.16,240.70 415.25,236.76 415.35,232.75 415.45,228.67 415.55,224.53 415.65,220.35 415.76,216.12 415.86,211.87 415.96,207.59 416.07,203.30 416.16,199.00 416.24,194.71 416.31,190.43 416.39,186.18 416.46,181.95 416.54,177.77 416.61,173.63 416.68,169.55 416.76,165.54 416.83,161.60 416.89,157.74 417.00,153.97 417.11,150.30 417.22,146.74 417.33,143.29 417.43,139.96 417.56,136.75 417.69,133.68 417.82,130.75 417.94,127.96 418.06,125.33 418.25,122.85 418.42,120.54 418.58,118.39 418.74,116.41 418.94,114.61 419.13,112.99 419.33,111.55 419.52,110.30 419.78,109.23 420.08,108.36 420.31,107.68 420.47,107.19 420.57,106.90 420.60,106.80 420.62,106.90 420.67,107.19 420.76,107.67 420.88,108.35 421.04,109.22 421.18,110.27 421.28,111.52 421.39,112.95 421.48,114.56 421.59,116.35 421.67,118.31 421.74,120.44 421.82,122.74 421.90,125.20 421.95,127.82 421.98,130.58 422.02,133.49 422.05,136.54 422.09,139.73 422.12,143.04 422.15,146.47 422.18,150.01 422.21,153.65 422.25,157.39 422.30,161.22 422.35,165.14 422.41,169.12 422.47,173.17 422.53,177.28 422.59,181.44 422.65,185.63 422.71,189.86 422.77,194.11 422.83,198.37 422.93,202.63 423.09,206.89 423.25,211.14 423.41,215.37 423.56,219.56 423.72,223.72 423.87,227.83 424.02,231.88 424.17,235.86 424.24,239.78 424.31,243.61 424.37,247.35 424.43,250.99 424.49,254.53 424.55,257.96 424.60,261.27 424.65,264.46 424.70,267.51 424.75,270.42 424.80,273.18 424.84,275.80 424.91,278.26 424.98,280.56 425.04,282.69 425.10,284.65 425.17,286.44 425.23,288.05 425.30,289.48 425.42,290.73 425.51,291.78 425.63,292.65 425.75,293.33 425.83,293.81 425.88,294.10 425.90,294.20 425.92,294.10 425.99,293.81 426.10,293.32 426.26,292.65 426.41,291.78 426.53,290.72 426.67,289.47 426.77,288.04 426.86,286.42 426.97,284.63 427.04,282.66 427.12,280.52 427.20,278.22 427.29,275.75 427.35,273.13 427.41,270.35 427.48,267.43 427.55,264.38 427.62,261.18 427.70,257.87 427.78,254.43 427.86,250.88 427.94,247.22 428.03,243.47 428.12,239.63 428.21,235.71 428.31,231.71 428.41,227.65 428.52,223.53 428.62,219.36 428.73,215.16 428.84,210.92 428.95,206.66 429.06,202.39 429.15,198.11 429.23,193.84 429.31,189.58 429.38,185.34 429.46,181.14 429.54,176.97 429.61,172.85 429.69,168.79 429.76,164.79 429.83,160.87 429.90,157.03 430.01,153.27 430.13,149.62 430.24,146.07 430.35,142.63 430.46,139.32 430.58,136.12 430.72,133.07 430.85,130.15 430.97,127.37 431.10,124.75 431.29,122.28 431.47,119.98 431.63,117.84 431.80,115.87 432.00,114.08 432.19,112.46 432.40,111.03 432.59,109.78 432.87,108.72 433.17,107.85 433.40,107.18 433.57,106.69 433.67,106.40 433.70,106.30 433.72,106.40 433.77,106.69 433.85,107.18 433.97,107.86 434.13,108.74 434.26,109.80 434.36,111.06 434.46,112.50 434.55,114.12 434.65,115.92 434.73,117.90 434.80,120.05 434.88,122.37 434.96,124.85 435.00,127.48 435.03,130.27 435.07,133.21 435.10,136.28 435.13,139.49 435.16,142.83 435.19,146.28 435.22,149.85 435.25,153.52 435.29,157.30 435.34,161.16 435.40,165.10 435.45,169.12 435.51,173.20 435.56,177.34 435.62,181.53 435.68,185.76 435.73,190.02 435.79,194.30 435.85,198.60 435.90,202.90 435.95,207.20 435.99,211.48 436.03,215.74 436.07,219.97 436.12,224.16 436.16,228.30 436.20,232.38 436.24,236.40 436.30,240.34 436.36,244.20 436.42,247.97 436.48,251.65 436.54,255.22 436.59,258.67 436.65,262.01 436.70,265.22 436.75,268.29 436.79,271.23 436.84,274.02 436.88,276.65 436.94,279.13 437.01,281.45 437.07,283.60 437.13,285.58 437.19,287.38 437.26,289.00 437.32,290.44 437.43,291.70 437.52,292.76 437.64,293.64 437.75,294.32 437.83,294.81 437.88,295.10 437.90,295.20 440.00,295.00 442.40,294.80 442.90,290.00 442.90,277.90 447.00,277.90 450.80,277.90" fill="none" stroke="#000" stroke-width="1.9" stroke-linejoin="round" stroke-linecap="butt"/>
<polyline points="67.60,276.50 137.60,276.50 152.60,133.60 152.60,133.64 152.60,133.78 152.61,134.00 152.61,134.31 152.62,134.72 152.63,135.20 152.64,135.78 152.65,136.44 152.66,137.19 152.67,138.03 152.69,138.94 152.71,139.95 152.72,141.03 152.74,142.19 152.76,143.43 152.79,144.75 152.81,146.14 152.83,147.61 152.86,149.15 152.89,150.76 152.91,152.44 152.94,154.18 152.97,155.99 153.00,157.86 153.04,159.79 153.07,161.77 153.10,163.81 153.13,165.91 153.17,168.05 153.20,170.23 153.23,172.47 153.27,174.74 153.30,177.05 153.34,179.39 153.38,181.77 153.41,184.18 153.45,186.61 153.49,189.07 153.53,191.55 153.56,194.04 153.60,196.55 153.64,199.07 153.68,201.60 153.72,204.13 153.76,206.67 153.79,209.20 153.91,211.73 154.05,214.25 154.18,216.76 154.31,219.25 154.44,221.73 154.57,224.19 154.70,226.62 154.83,229.03 154.95,231.41 155.08,233.75 155.20,236.06 155.32,238.33 155.44,240.57 155.55,242.75 155.75,244.89 155.99,246.99 156.23,249.03 156.46,251.01 156.69,252.94 156.91,254.81 157.12,256.62 157.32,258.36 157.51,260.04 157.70,261.65 157.88,263.19 158.05,264.66 158.21,266.05 158.36,267.37 158.50,268.61 158.64,269.77 158.77,270.85 158.88,271.86 158.99,272.77 159.09,273.61 159.17,274.36 159.25,275.02 159.32,275.60 159.37,276.08 159.42,276.49 159.45,276.80 159.48,277.02 159.49,277.16 159.50,277.20 167.30,313.80 167.65,311.35 168.16,307.84 168.72,303.86 169.20,300.00 169.59,296.33 169.94,292.57 170.28,288.78 170.60,285.00 170.92,281.25 171.24,277.50 171.53,273.75 171.80,270.00 172.03,266.48 172.24,263.12 172.42,259.45 172.60,255.00 172.76,249.57 172.91,243.44 173.05,236.84 173.20,230.00 173.35,222.73 173.49,215.00 173.64,207.27 173.80,200.00 173.96,193.28 174.13,186.88 174.30,180.78 174.50,175.00 174.72,169.53 174.96,164.38 175.22,159.53 175.50,155.00 175.80,150.82 176.11,146.97 176.45,143.39 176.80,140.00 177.22,136.59 177.68,133.26 178.11,130.40 178.40,128.40 178.40,128.45 178.40,128.59 178.40,128.83 178.41,129.17 178.42,129.60 178.43,130.13 178.44,130.75 178.45,131.47 178.46,132.28 178.48,133.18 178.49,134.17 178.51,135.25 178.53,136.42 178.55,137.67 178.57,139.01 178.60,140.44 178.62,141.94 178.65,143.52 178.68,145.19 178.71,146.92 178.74,148.74 178.77,150.62 178.80,152.57 178.83,154.59 178.87,156.67 178.90,158.81 178.94,161.01 178.97,163.27 179.01,165.58 179.04,167.94 179.08,170.35 179.12,172.80 179.15,175.30 179.19,177.83 179.23,180.40 179.27,182.99 179.31,185.62 179.35,188.27 179.39,190.95 179.43,193.64 179.47,196.35 179.51,199.07 179.56,201.80 179.60,204.53 179.74,207.27 179.89,210.00 180.03,212.73 180.17,215.45 180.31,218.16 180.45,220.85 180.58,223.53 180.71,226.18 180.84,228.81 180.97,231.40 181.09,233.97 181.21,236.50 181.36,239.00 181.59,241.45 181.79,243.86 181.97,246.22 182.11,248.53 182.22,250.79 182.32,252.99 182.39,255.13 182.46,257.21 182.51,259.23 182.55,261.18 182.60,263.06 182.63,264.88 182.67,266.61 182.70,268.28 182.73,269.86 182.77,271.36 182.81,272.79 182.86,274.13 182.91,275.38 182.96,276.55 183.00,277.63 183.05,278.62 183.09,279.52 183.16,280.33 183.23,281.05 183.30,281.67 183.35,282.20 183.39,282.63 183.43,282.97 183.45,283.21 183.47,283.35 183.47,283.40 186.80,313.40 187.73,283.40 187.74,283.35 187.75,283.21 187.78,282.96 187.82,282.62 187.87,282.19 187.93,281.65 188.00,281.02 188.08,280.30 188.14,279.49 188.21,278.58 188.27,277.58 188.33,276.49 188.39,275.31 188.46,274.04 188.53,272.69 188.59,271.26 188.63,269.74 188.66,268.14 188.70,266.46 188.74,264.71 188.79,262.88 188.85,260.98 188.92,259.01 189.02,256.98 189.13,254.88 189.26,252.71 189.42,250.49 189.60,248.21 189.79,245.88 190.00,243.50 190.23,241.07 190.46,238.60 190.67,236.08 190.81,233.52 190.95,230.93 191.09,228.31 191.24,225.66 191.39,222.99 191.54,220.29 191.69,217.57 191.84,214.84 191.99,212.09 192.15,209.34 192.30,206.58 192.45,203.82 192.55,201.06 192.62,198.31 192.69,195.56 192.77,192.83 192.84,190.11 192.91,187.41 192.98,184.74 193.05,182.09 193.11,179.47 193.18,176.88 193.25,174.32 193.31,171.80 193.38,169.33 193.44,166.90 193.50,164.52 193.56,162.19 193.62,159.91 193.68,157.69 193.74,155.52 193.81,153.42 193.87,151.39 193.93,149.42 193.98,147.52 194.04,145.69 194.09,143.94 194.14,142.26 194.19,140.66 194.24,139.14 194.28,137.71 194.32,136.36 194.36,135.09 194.39,133.91 194.43,132.82 194.46,131.82 194.48,130.91 194.51,130.10 194.53,129.38 194.55,128.75 194.56,128.21 194.58,127.78 194.59,127.44 194.59,127.19 194.60,127.05 194.60,127.00 194.59,127.05 194.59,127.20 194.60,127.44 194.60,127.78 194.61,128.22 194.62,128.76 194.63,129.39 194.64,130.12 194.66,130.94 194.67,131.86 194.69,132.87 194.71,133.96 194.73,135.15 194.75,136.43 194.77,137.79 194.79,139.24 194.82,140.77 194.85,142.38 194.87,144.07 194.90,145.83 194.93,147.68 194.96,149.59 195.00,151.57 195.03,153.63 195.07,155.74 195.10,157.92 195.14,160.16 195.17,162.46 195.21,164.81 195.24,167.21 195.28,169.65 195.32,172.15 195.35,174.68 195.39,177.26 195.43,179.87 195.47,182.51 195.51,185.18 195.55,187.88 195.59,190.60 195.63,193.34 195.67,196.09 195.72,198.86 195.76,201.63 195.85,204.41 195.99,207.19 196.13,209.97 196.26,212.74 196.39,215.51 196.52,218.26 196.64,221.00 196.76,223.72 196.87,226.42 196.97,229.09 197.07,231.73 197.16,234.34 197.24,236.92 197.39,239.45 197.50,241.95 197.59,244.39 197.66,246.79 197.72,249.14 197.76,251.44 197.80,253.68 197.84,255.86 197.87,257.97 197.90,260.03 197.93,262.01 197.95,263.92 197.98,265.77 198.00,267.53 198.03,269.22 198.05,270.83 198.08,272.36 198.11,273.81 198.15,275.17 198.19,276.45 198.22,277.64 198.25,278.73 198.29,279.74 198.33,280.66 198.38,281.48 198.43,282.21 198.48,282.84 198.52,283.38 198.56,283.82 198.58,284.16 198.60,284.40 198.62,284.55 198.62,284.60 200.60,310.80 202.23,284.60 202.23,284.55 202.25,284.40 202.27,284.14 202.31,283.78 202.35,283.32 202.41,282.77 202.48,282.11 202.54,281.35 202.61,280.49 202.68,279.54 202.73,278.49 202.79,277.34 202.84,276.11 202.91,274.78 202.97,273.36 203.02,271.85 203.03,270.26 203.05,268.58 203.07,266.82 203.09,264.98 203.11,263.06 203.14,261.06 203.17,259.00 203.20,256.86 203.24,254.65 203.29,252.38 203.36,250.05 203.44,247.66 203.55,245.21 203.68,242.71 203.84,240.16 204.03,237.56 204.24,234.92 204.48,232.24 204.69,229.52 204.83,226.77 204.98,223.98 205.13,221.17 205.29,218.34 205.44,215.49 205.60,212.62 205.76,209.74 205.92,206.85 206.08,203.95 206.24,201.05 206.40,198.15 206.53,195.26 206.61,192.38 206.68,189.51 206.75,186.66 206.83,183.83 206.90,181.02 206.97,178.23 207.05,175.48 207.12,172.76 207.19,170.08 207.26,167.44 207.32,164.84 207.39,162.29 207.46,159.79 207.52,157.34 207.58,154.95 207.64,152.62 207.70,150.35 207.77,148.14 207.83,146.00 207.89,143.94 207.95,141.94 208.01,140.02 208.07,138.18 208.12,136.42 208.17,134.74 208.22,133.15 208.26,131.64 208.31,130.22 208.35,128.89 208.38,127.66 208.42,126.51 208.45,125.46 208.48,124.51 208.50,123.65 208.53,122.89 208.55,122.23 208.56,121.68 208.58,121.22 208.59,120.86 208.59,120.60 208.60,120.45 208.60,120.40 208.59,120.45 208.59,120.61 208.60,120.86 208.60,121.22 208.61,121.68 208.62,122.24 208.63,122.90 208.64,123.66 208.66,124.52 208.67,125.47 208.69,126.53 208.71,127.67 208.73,128.91 208.75,130.25 208.78,131.67 208.80,133.18 208.83,134.78 208.86,136.46 208.89,138.23 208.92,140.07 208.95,141.99 208.98,143.99 209.02,146.07 209.05,148.21 209.09,150.42 209.12,152.70 209.16,155.03 209.19,157.43 209.23,159.88 209.27,162.39 209.31,164.95 209.35,167.55 209.39,170.20 209.43,172.89 209.47,175.62 209.51,178.38 209.56,181.17 209.60,183.98 209.64,186.82 209.68,189.68 209.73,192.56 209.77,195.45 209.88,198.34 210.03,201.25 210.18,204.15 210.32,207.06 210.47,209.95 210.61,212.84 210.74,215.72 210.87,218.58 211.00,221.42 211.11,224.23 211.22,227.02 211.33,229.78 211.50,232.51 211.65,235.20 211.77,237.85 211.87,240.45 211.94,243.01 212.00,245.52 212.05,247.97 212.10,250.37 212.14,252.70 212.18,254.98 212.22,257.19 212.25,259.33 212.28,261.41 212.32,263.41 212.35,265.33 212.38,267.17 212.40,268.94 212.43,270.62 212.46,272.22 212.49,273.73 212.54,275.15 212.58,276.49 212.63,277.73 212.67,278.87 212.70,279.93 212.76,280.88 212.81,281.74 212.87,282.50 212.93,283.16 212.98,283.72 213.02,284.18 213.05,284.54 213.08,284.79 213.09,284.95 213.10,285.00 215.10,310.10 216.65,285.00 216.66,284.95 216.67,284.80 216.69,284.55 216.72,284.19 216.76,283.74 216.81,283.19 216.87,282.54 216.93,281.79 216.99,280.95 217.05,280.01 217.09,278.97 217.14,277.84 217.19,276.62 217.24,275.31 217.30,273.91 217.34,272.42 217.36,270.85 217.37,269.19 217.39,267.46 217.40,265.64 217.42,263.75 217.44,261.78 217.46,259.74 217.49,257.63 217.52,255.45 217.55,253.22 217.59,250.91 217.65,248.55 217.72,246.14 217.82,243.67 217.94,241.15 218.09,238.59 218.27,235.99 218.48,233.34 218.61,230.66 218.75,227.94 218.89,225.19 219.03,222.42 219.18,219.63 219.33,216.81 219.48,213.98 219.63,211.14 219.79,208.29 219.95,205.43 220.11,202.57 220.26,199.71 220.36,196.86 220.43,194.02 220.51,191.19 220.58,188.37 220.65,185.58 220.72,182.81 220.80,180.06 220.87,177.34 220.94,174.66 221.01,172.01 221.07,169.41 221.14,166.85 221.21,164.33 221.27,161.86 221.33,159.45 221.39,157.09 221.45,154.78 221.51,152.55 221.58,150.37 221.64,148.26 221.70,146.22 221.76,144.25 221.82,142.36 221.87,140.54 221.93,138.81 221.98,137.15 222.02,135.58 222.07,134.09 222.11,132.69 222.15,131.38 222.19,130.16 222.22,129.03 222.25,127.99 222.28,127.05 222.30,126.21 222.33,125.46 222.35,124.81 222.36,124.26 222.38,123.81 222.39,123.45 222.39,123.20 222.40,123.05 222.40,123.00 222.37,123.05 222.37,123.20 222.38,123.45 222.38,123.79 222.39,124.24 222.40,124.78 222.41,125.42 222.42,126.16 222.43,126.99 222.45,127.92 222.47,128.94 222.48,130.05 222.50,131.26 222.52,132.55 222.55,133.93 222.57,135.39 222.60,136.94 222.62,138.57 222.65,140.28 222.68,142.07 222.71,143.94 222.74,145.88 222.78,147.89 222.81,149.96 222.85,152.11 222.88,154.31 222.91,156.58 222.95,158.91 222.99,161.28 223.02,163.72 223.06,166.20 223.10,168.72 223.14,171.29 223.18,173.90 223.21,176.54 223.25,179.21 223.29,181.92 223.33,184.65 223.37,187.40 223.41,190.18 223.46,192.97 223.50,195.77 223.54,198.58 223.66,201.39 223.79,204.21 223.91,207.02 224.04,209.83 224.15,212.63 224.26,215.42 224.36,218.20 224.45,220.95 224.54,223.68 224.62,226.39 224.69,229.06 224.75,231.70 224.84,234.31 224.92,236.88 224.99,239.40 225.04,241.88 225.09,244.32 225.12,246.69 225.16,249.02 225.19,251.29 225.22,253.49 225.25,255.64 225.28,257.71 225.31,259.72 225.33,261.66 225.36,263.53 225.38,265.32 225.40,267.03 225.43,268.66 225.45,270.21 225.48,271.67 225.52,273.05 225.56,274.34 225.59,275.55 225.62,276.66 225.65,277.68 225.69,278.61 225.75,279.44 225.79,280.18 225.84,280.82 225.88,281.36 225.92,281.81 225.94,282.15 225.96,282.40 225.97,282.55 225.97,282.60 227.80,309.10 229.35,282.60 229.36,282.55 229.37,282.41 229.39,282.18 229.42,281.85 229.46,281.42 229.51,280.91 229.57,280.30 229.63,279.60 229.70,278.81 229.76,277.93 229.80,276.96 229.84,275.90 229.89,274.76 229.95,273.53 230.01,272.22 230.05,270.83 230.08,269.36 230.11,267.81 230.12,266.18 230.14,264.48 230.16,262.71 230.19,260.87 230.22,258.96 230.26,256.99 230.30,254.95 230.36,252.86 230.43,250.70 230.52,248.49 230.63,246.23 230.76,243.93 230.92,241.57 231.04,239.17 231.15,236.73 231.27,234.26 231.39,231.74 231.52,229.20 231.65,226.63 231.78,224.04 231.92,221.42 232.06,218.79 232.21,216.14 232.35,213.48 232.50,210.81 232.64,208.14 232.75,205.46 232.82,202.79 232.88,200.12 232.95,197.46 233.02,194.81 233.09,192.18 233.16,189.56 233.23,186.97 233.29,184.40 233.36,181.86 233.42,179.34 233.49,176.87 233.55,174.43 233.61,172.03 233.68,169.67 233.74,167.37 233.79,165.11 233.85,162.90 233.91,160.74 233.97,158.65 234.03,156.61 234.09,154.64 234.15,152.73 234.20,150.89 234.26,149.12 234.31,147.42 234.36,145.79 234.40,144.24 234.45,142.77 234.49,141.38 234.53,140.07 234.57,138.84 234.60,137.70 234.63,136.64 234.66,135.67 234.69,134.79 234.71,134.00 234.73,133.30 234.75,132.69 234.77,132.18 234.78,131.75 234.79,131.42 234.80,131.19 234.80,131.05 234.80,131.00 234.79,131.05 234.79,131.19 234.80,131.44 234.80,131.78 234.81,132.21 234.82,132.75 234.83,133.38 234.84,134.10 234.86,134.91 234.87,135.82 234.89,136.82 234.91,137.91 234.92,139.09 234.95,140.36 234.97,141.71 234.99,143.14 235.02,144.66 235.04,146.26 235.07,147.94 235.10,149.69 235.13,151.52 235.16,153.42 235.20,155.39 235.23,157.42 235.26,159.52 235.30,161.69 235.33,163.91 235.37,166.19 235.40,168.52 235.44,170.90 235.48,173.33 235.51,175.80 235.55,178.32 235.59,180.88 235.63,183.47 235.67,186.09 235.71,188.74 235.75,191.41 235.79,194.11 235.83,196.83 235.87,199.56 235.91,202.31 235.95,205.06 236.02,207.82 236.16,210.58 236.30,213.34 236.44,216.09 236.57,218.84 236.70,221.57 236.83,224.29 236.95,226.99 237.07,229.66 237.17,232.31 237.28,234.93 237.37,237.52 237.47,240.08 237.61,242.60 237.74,245.07 237.85,247.50 237.93,249.88 237.99,252.21 238.04,254.49 238.08,256.71 238.12,258.88 238.15,260.98 238.18,263.01 238.21,264.98 238.24,266.88 238.26,268.71 238.28,270.46 238.31,272.14 238.33,273.74 238.35,275.26 238.39,276.69 238.42,278.04 238.46,279.31 238.49,280.49 238.52,281.58 238.55,282.58 238.60,283.49 238.65,284.30 238.70,285.02 238.74,285.65 238.78,286.19 238.82,286.62 238.84,286.96 238.86,287.21 238.87,287.35 238.87,287.40 240.20,305.80 242.99,287.40 243.00,287.35 243.01,287.21 243.04,286.96 243.08,286.62 243.14,286.19 243.20,285.65 243.27,285.02 243.35,284.30 243.44,283.49 243.52,282.58 243.59,281.58 243.67,280.49 243.75,279.31 243.84,278.04 243.94,276.69 244.03,275.26 244.12,273.74 244.21,272.14 244.32,270.46 244.44,268.71 244.57,266.88 244.72,264.98 244.88,263.01 245.06,260.98 245.26,258.88 245.46,256.71 245.67,254.49 245.89,252.21 246.12,249.88 246.36,247.50 246.60,245.07 246.84,242.60 247.05,240.08 247.20,237.52 247.34,234.93 247.49,232.31 247.63,229.66 247.78,226.99 247.93,224.29 248.09,221.57 248.24,218.84 248.39,216.09 248.55,213.34 248.70,210.58 248.85,207.82 248.95,205.06 249.02,202.31 249.09,199.56 249.17,196.83 249.24,194.11 249.31,191.41 249.38,188.74 249.45,186.09 249.51,183.47 249.58,180.88 249.65,178.32 249.71,175.80 249.78,173.33 249.84,170.90 249.90,168.52 249.96,166.19 250.02,163.91 250.08,161.69 250.14,159.52 250.21,157.42 250.27,155.39 250.33,153.42 250.38,151.52 250.44,149.69 250.49,147.94 250.54,146.26 250.59,144.66 250.64,143.14 250.68,141.71 250.72,140.36 250.76,139.09 250.79,137.91 250.83,136.82 250.86,135.82 250.88,134.91 250.91,134.10 250.93,133.38 250.95,132.75 250.96,132.21 250.98,131.78 250.99,131.44 250.99,131.19 251.00,131.05 251.00,131.00 250.98,131.05 250.99,131.19 250.99,131.42 251.00,131.75 251.00,132.18 251.01,132.69 251.02,133.30 251.03,134.00 251.05,134.80 251.06,135.68 251.08,136.65 251.09,137.70 251.11,138.85 251.13,140.07 251.15,141.39 251.18,142.78 251.20,144.25 251.23,145.80 251.26,147.43 251.28,149.13 251.31,150.90 251.34,152.74 251.38,154.65 251.41,156.63 251.44,158.67 251.48,160.76 251.51,162.92 251.55,165.13 251.58,167.39 251.62,169.70 251.65,172.06 251.69,174.46 251.73,176.90 251.76,179.38 251.80,181.89 251.84,184.43 251.88,187.00 251.92,189.60 251.96,192.22 252.00,194.85 252.04,197.50 252.08,200.17 252.12,202.84 252.16,205.51 252.25,208.19 252.39,210.86 252.53,213.53 252.66,216.20 252.80,218.85 252.96,221.48 253.12,224.10 253.28,226.70 253.43,229.27 253.58,231.81 253.72,234.32 253.87,236.80 254.01,239.24 254.17,241.64 254.41,244.00 254.62,246.31 254.80,248.57 254.96,250.78 255.09,252.94 255.19,255.03 255.29,257.07 255.37,259.05 255.44,260.96 255.50,262.80 255.55,264.57 255.59,266.27 255.62,267.90 255.65,269.45 255.69,270.92 255.74,272.31 255.79,273.63 255.83,274.85 255.88,276.00 255.91,277.05 255.95,278.02 256.00,278.90 256.06,279.70 256.12,280.40 256.17,281.01 256.21,281.52 256.24,281.95 256.27,282.28 256.29,282.51 256.30,282.65 256.30,282.70 257.60,300.00 258.40,282.70 258.40,282.65 258.41,282.50 258.43,282.25 258.46,281.91 258.49,281.46 258.53,280.92 258.57,280.28 258.63,279.55 258.69,278.72 258.72,277.79 258.76,276.77 258.80,275.67 258.85,274.47 258.89,273.18 258.94,271.80 258.98,270.34 259.01,268.79 259.03,267.17 259.05,265.46 259.08,263.67 259.12,261.81 259.16,259.88 259.21,257.88 259.26,255.80 259.31,253.67 259.37,251.46 259.43,249.20 259.51,246.88 259.59,244.51 259.69,242.09 259.81,239.61 259.96,237.09 260.13,234.53 260.28,231.93 260.41,229.30 260.55,226.63 260.70,223.93 260.86,221.20 261.01,218.46 261.15,215.69 261.30,212.91 261.44,210.12 261.59,207.31 261.74,204.50 261.89,201.70 262.03,198.89 262.10,196.08 262.17,193.29 262.24,190.51 262.32,187.74 262.39,185.00 262.46,182.27 262.53,179.57 262.60,176.90 262.67,174.27 262.73,171.67 262.80,169.11 262.86,166.59 262.93,164.11 262.99,161.69 263.05,159.32 263.11,157.00 263.17,154.74 263.23,152.53 263.30,150.40 263.36,148.32 263.42,146.32 263.48,144.39 263.53,142.53 263.59,140.74 263.64,139.03 263.69,137.41 263.73,135.86 263.78,134.40 263.82,133.02 263.86,131.73 263.89,130.53 263.93,129.43 263.96,128.41 263.98,127.48 264.01,126.65 264.03,125.92 264.05,125.28 264.07,124.74 264.08,124.29 264.09,123.95 264.10,123.70 264.10,123.55 264.10,123.50 264.09,123.55 264.10,123.70 264.10,123.95 264.11,124.30 264.11,124.74 264.12,125.29 264.13,125.93 264.15,126.67 264.16,127.50 264.18,128.43 264.19,129.46 264.21,130.57 264.23,131.78 264.25,133.07 264.28,134.45 264.30,135.92 264.33,137.48 264.35,139.11 264.38,140.83 264.41,142.62 264.44,144.49 264.47,146.43 264.51,148.45 264.54,150.53 264.58,152.68 264.61,154.89 264.65,157.17 264.68,159.50 264.72,161.88 264.76,164.32 264.79,166.80 264.83,169.34 264.87,171.91 264.91,174.52 264.95,177.17 264.99,179.86 265.04,182.57 265.08,185.31 265.12,188.07 265.16,190.85 265.21,193.64 265.25,196.45 265.29,199.27 265.43,202.09 265.58,204.91 265.73,207.73 265.88,210.55 266.02,213.36 266.17,216.15 266.32,218.93 266.50,221.69 266.70,224.43 266.89,227.14 267.08,229.83 267.27,232.48 267.55,235.09 267.87,237.66 268.18,240.20 268.47,242.68 268.72,245.12 268.95,247.50 269.15,249.83 269.31,252.11 269.46,254.32 269.58,256.47 269.69,258.55 269.78,260.57 269.87,262.51 269.95,264.38 269.99,266.17 270.03,267.89 270.06,269.52 270.10,271.08 270.14,272.55 270.19,273.93 270.23,275.22 270.28,276.43 270.32,277.54 270.35,278.57 270.39,279.50 270.44,280.33 270.48,281.07 270.52,281.71 270.56,282.26 270.59,282.70 270.61,283.05 270.62,283.30 270.63,283.45 270.64,283.50 270.70,304.00 271.28,283.50 271.28,283.45 271.29,283.30 271.31,283.04 271.34,282.69 271.37,282.23 271.41,281.67 271.46,281.02 271.51,280.26 271.57,279.41 271.60,278.46 271.65,277.41 271.69,276.28 271.74,275.04 271.79,273.72 271.84,272.31 271.89,270.80 271.93,269.22 271.96,267.55 272.00,265.79 272.05,263.96 272.13,262.05 272.21,260.06 272.31,258.01 272.41,255.88 272.52,253.68 272.64,251.42 272.79,249.10 272.95,246.72 273.13,244.28 273.34,241.79 273.57,239.25 273.83,236.66 274.10,234.03 274.39,231.36 274.64,228.65 274.84,225.91 275.04,223.14 275.24,220.34 275.41,217.52 275.57,214.68 275.73,211.82 275.88,208.95 276.04,206.08 276.20,203.19 276.36,200.31 276.52,197.42 276.64,194.55 276.72,191.68 276.79,188.82 276.86,185.98 276.94,183.16 277.01,180.36 277.08,177.59 277.15,174.85 277.22,172.14 277.29,169.47 277.36,166.84 277.43,164.25 277.50,161.71 277.56,159.22 277.62,156.78 277.69,154.40 277.75,152.08 277.81,149.82 277.87,147.62 277.94,145.49 278.00,143.44 278.06,141.45 278.12,139.54 278.17,137.71 278.22,135.95 278.27,134.28 278.32,132.70 278.37,131.19 278.41,129.78 278.45,128.46 278.48,127.22 278.52,126.09 278.55,125.04 278.58,124.09 278.60,123.24 278.63,122.48 278.65,121.83 278.66,121.27 278.68,120.81 278.69,120.46 278.70,120.20 278.70,120.05 278.70,120.00 278.68,120.05 278.68,120.19 278.69,120.44 278.69,120.78 278.70,121.21 278.71,121.75 278.72,122.37 278.73,123.10 278.75,123.91 278.76,124.82 278.78,125.82 278.80,126.91 278.81,128.08 278.84,129.35 278.86,130.70 278.88,132.14 278.91,133.65 278.93,135.25 278.96,136.93 278.99,138.68 279.02,140.51 279.05,142.40 279.08,144.37 279.11,146.41 279.15,148.51 279.18,150.67 279.22,152.89 279.25,155.16 279.29,157.49 279.32,159.87 279.36,162.30 279.40,164.78 279.44,167.29 279.47,169.84 279.51,172.43 279.55,175.05 279.59,177.70 279.63,180.38 279.68,183.07 279.72,185.79 279.76,188.52 279.80,191.26 279.85,194.01 279.92,196.77 280.06,199.53 280.21,202.29 280.35,205.04 280.49,207.78 280.64,210.51 280.80,213.23 281.02,215.92 281.24,218.60 281.45,221.25 281.66,223.87 281.87,226.46 282.07,229.01 282.34,231.52 282.65,234.00 282.93,236.43 283.18,238.81 283.40,241.14 283.59,243.41 283.75,245.63 283.89,247.79 284.01,249.89 284.12,251.93 284.23,253.90 284.32,255.79 284.40,257.62 284.44,259.37 284.47,261.05 284.50,262.65 284.53,264.16 284.57,265.60 284.60,266.95 284.64,268.22 284.68,269.39 284.71,270.48 284.74,271.48 284.77,272.39 284.80,273.20 284.83,273.93 284.85,274.55 284.88,275.09 284.89,275.52 284.91,275.86 284.92,276.11 284.92,276.25 284.93,276.30 284.20,293.20 283.74,276.30 283.75,276.25 283.75,276.11 283.77,275.88 283.78,275.55 283.80,275.12 283.83,274.61 283.86,274.00 283.89,273.30 283.93,272.51 283.96,271.64 284.00,270.67 284.03,269.61 284.07,268.47 284.11,267.25 284.15,265.94 284.20,264.55 284.24,263.08 284.28,261.54 284.33,259.91 284.38,258.22 284.46,256.45 284.57,254.61 284.71,252.71 284.85,250.74 285.01,248.71 285.19,246.61 285.39,244.47 285.61,242.26 285.85,240.01 286.10,237.70 286.37,235.35 286.58,232.96 286.78,230.52 286.98,228.05 287.18,225.55 287.39,223.01 287.60,220.44 287.82,217.86 288.04,215.24 288.26,212.62 288.41,209.97 288.56,207.32 288.71,204.65 288.85,201.99 288.95,199.31 289.02,196.65 289.09,193.98 289.16,191.33 289.23,188.68 289.30,186.06 289.36,183.44 289.43,180.86 289.50,178.29 289.56,175.75 289.63,173.25 289.69,170.78 289.76,168.34 289.82,165.95 289.88,163.60 289.94,161.29 290.00,159.04 290.06,156.83 290.11,154.69 290.18,152.59 290.24,150.56 290.30,148.59 290.35,146.69 290.41,144.85 290.46,143.08 290.51,141.39 290.56,139.76 290.61,138.22 290.65,136.75 290.69,135.36 290.73,134.05 290.77,132.83 290.80,131.69 290.83,130.63 290.86,129.66 290.89,128.79 290.91,128.00 290.93,127.30 290.95,126.69 290.97,126.18 290.98,125.75 290.99,125.42 291.00,125.19 291.00,125.05 291.00,125.00 290.98,125.05 290.98,125.20 290.98,125.45 290.99,125.80 290.99,126.24 291.00,126.79 291.01,127.43 291.03,128.17 291.04,129.00 291.06,129.93 291.07,130.96 291.09,132.07 291.11,133.28 291.13,134.57 291.15,135.95 291.18,137.42 291.20,138.98 291.23,140.61 291.26,142.33 291.29,144.12 291.32,145.99 291.35,147.93 291.38,149.95 291.42,152.03 291.45,154.18 291.49,156.39 291.52,158.67 291.56,161.00 291.59,163.38 291.63,165.82 291.67,168.30 291.70,170.84 291.74,173.41 291.78,176.02 291.82,178.67 291.86,181.36 291.90,184.07 291.95,186.81 291.99,189.57 292.03,192.35 292.08,195.14 292.12,197.95 292.17,200.77 292.31,203.59 292.45,206.41 292.60,209.23 292.74,212.05 292.88,214.86 293.03,217.65 293.17,220.43 293.33,223.19 293.55,225.93 293.76,228.64 293.97,231.33 294.17,233.98 294.44,236.59 294.74,239.16 294.99,241.70 295.22,244.18 295.41,246.62 295.57,249.00 295.71,251.33 295.84,253.61 295.96,255.82 296.06,257.97 296.17,260.05 296.26,262.07 296.35,264.01 296.44,265.88 296.51,267.67 296.54,269.39 296.57,271.02 296.60,272.58 296.63,274.05 296.66,275.43 296.70,276.72 296.74,277.93 296.77,279.04 296.80,280.07 296.83,281.00 296.85,281.83 296.88,282.57 296.90,283.21 296.92,283.76 296.94,284.20 296.96,284.55 296.97,284.80 296.97,284.95 296.97,285.00 296.40,291.00 295.95,285.00 295.96,284.95 295.96,284.81 295.98,284.58 295.99,284.25 296.02,283.83 296.04,283.32 296.08,282.72 296.11,282.03 296.14,281.25 296.17,280.38 296.20,279.42 296.24,278.37 296.29,277.24 296.33,276.03 296.38,274.73 296.43,273.35 296.48,271.90 296.54,270.36 296.60,268.76 296.68,267.07 296.81,265.32 296.96,263.50 297.13,261.61 297.31,259.66 297.51,257.64 297.73,255.57 297.97,253.44 298.22,251.25 298.48,249.02 298.76,246.73 299.03,244.40 299.22,242.03 299.42,239.62 299.63,237.17 299.83,234.68 300.05,232.17 300.26,229.62 300.47,227.06 300.69,224.47 300.90,221.86 301.04,219.24 301.19,216.61 301.34,213.97 301.48,211.32 301.56,208.68 301.63,206.03 301.70,203.39 301.77,200.76 301.84,198.14 301.91,195.53 301.97,192.94 302.04,190.38 302.11,187.83 302.17,185.32 302.24,182.83 302.30,180.38 302.36,177.97 302.43,175.60 302.49,173.27 302.55,170.98 302.60,168.75 302.66,166.56 302.72,164.43 302.78,162.36 302.84,160.34 302.90,158.39 302.96,156.50 303.01,154.68 303.06,152.93 303.11,151.24 303.16,149.64 303.21,148.10 303.25,146.65 303.29,145.27 303.33,143.97 303.37,142.76 303.40,141.63 303.43,140.58 303.46,139.62 303.49,138.75 303.51,137.97 303.53,137.28 303.55,136.68 303.57,136.17 303.58,135.75 303.59,135.42 303.60,135.19 303.60,135.05 303.60,135.00 303.58,135.05 303.58,135.19 303.58,135.43 303.59,135.76 303.60,136.19 303.61,136.71 303.62,137.32 303.63,138.03 303.64,138.83 303.66,139.72 303.67,140.70 303.69,141.77 303.71,142.92 303.73,144.16 303.75,145.48 303.77,146.89 303.80,148.37 303.82,149.94 303.85,151.58 303.88,153.30 303.91,155.09 303.94,156.95 303.97,158.87 304.00,160.87 304.04,162.92 304.07,165.04 304.11,167.21 304.14,169.44 304.18,171.73 304.21,174.06 304.25,176.44 304.28,178.86 304.32,181.32 304.36,183.82 304.40,186.36 304.44,188.93 304.48,191.52 304.52,194.14 304.56,196.78 304.60,199.44 304.65,202.12 304.69,204.80 304.73,207.50 304.78,210.20 304.89,212.90 305.03,215.60 305.17,218.30 305.31,220.98 305.45,223.66 305.65,226.32 305.87,228.96 306.08,231.58 306.29,234.17 306.50,236.74 306.70,239.28 306.90,241.78 307.09,244.24 307.37,246.66 307.68,249.04 307.97,251.37 308.23,253.66 308.46,255.89 308.66,258.06 308.84,260.18 308.99,262.23 309.13,264.23 309.25,266.15 309.36,268.01 309.43,269.80 309.48,271.52 309.51,273.16 309.55,274.73 309.59,276.21 309.63,277.62 309.68,278.94 309.72,280.18 309.76,281.33 309.80,282.40 309.83,283.38 309.86,284.27 309.90,285.07 309.93,285.78 309.96,286.39 309.98,286.91 310.00,287.34 310.02,287.67 310.03,287.91 310.03,288.05 310.04,288.10 309.50,296.00 309.02,288.10 309.02,288.05 309.03,287.90 309.04,287.65 309.06,287.30 309.09,286.85 309.12,286.30 309.15,285.65 309.19,284.91 309.24,284.07 309.27,283.13 309.30,282.10 309.34,280.98 309.39,279.77 309.43,278.46 309.48,277.07 309.52,275.59 309.56,274.03 309.60,272.38 309.64,270.65 309.70,268.85 309.80,266.96 309.91,265.01 310.03,262.98 310.16,260.88 310.30,258.72 310.46,256.49 310.63,254.20 310.82,251.86 311.04,249.46 311.27,247.00 311.53,244.50 311.81,241.95 312.11,239.36 312.41,236.73 312.62,234.06 312.85,231.36 313.07,228.63 313.30,225.87 313.50,223.09 313.65,220.29 313.81,217.48 313.96,214.65 314.12,211.81 314.27,208.97 314.43,206.13 314.59,203.29 314.67,200.45 314.75,197.62 314.82,194.81 314.89,192.01 314.96,189.23 315.04,186.47 315.11,183.74 315.18,181.04 315.25,178.37 315.31,175.74 315.38,173.15 315.45,170.60 315.51,168.10 315.58,165.64 315.64,163.24 315.70,160.90 315.76,158.61 315.82,156.38 315.89,154.22 315.95,152.12 316.01,150.09 316.07,148.14 316.12,146.25 316.18,144.45 316.23,142.72 316.28,141.07 316.33,139.51 316.37,138.03 316.41,136.64 316.45,135.33 316.49,134.12 316.52,133.00 316.55,131.97 316.58,131.03 316.61,130.19 316.63,129.45 316.65,128.80 316.66,128.25 316.68,127.80 316.69,127.45 316.70,127.20 316.70,127.05 316.70,127.00 316.69,127.05 316.69,127.19 316.69,127.44 316.70,127.78 316.71,128.21 316.71,128.74 316.73,129.37 316.74,130.09 316.75,130.90 316.77,131.80 316.78,132.80 316.80,133.88 316.82,135.06 316.84,136.32 316.86,137.67 316.89,139.10 316.91,140.61 316.94,142.20 316.96,143.87 316.99,145.62 317.02,147.44 317.05,149.33 317.09,151.29 317.12,153.32 317.16,155.41 317.19,157.57 317.22,159.78 317.26,162.05 317.29,164.37 317.33,166.75 317.37,169.17 317.40,171.63 317.44,174.14 317.48,176.68 317.52,179.26 317.56,181.88 317.60,184.52 317.64,187.18 317.68,189.87 317.72,192.58 317.77,195.30 317.81,198.03 317.85,200.78 317.92,203.53 318.06,206.27 318.21,209.02 318.35,211.77 318.49,214.50 318.64,217.22 318.81,219.93 319.03,222.62 319.25,225.28 319.46,227.92 319.67,230.54 319.88,233.12 320.08,235.66 320.35,238.17 320.68,240.63 321.00,243.05 321.29,245.43 321.55,247.75 321.79,250.02 321.99,252.23 322.17,254.39 322.32,256.48 322.46,258.51 322.58,260.47 322.69,262.36 322.77,264.18 322.82,265.93 322.85,267.60 322.89,269.19 322.92,270.70 322.97,272.13 323.01,273.48 323.05,274.74 323.09,275.92 323.13,277.00 323.16,278.00 323.19,278.90 323.23,279.71 323.26,280.43 323.29,281.06 323.31,281.59 323.33,282.02 323.34,282.36 323.35,282.61 323.36,282.75 323.36,282.80 322.70,294.00 322.34,282.80 322.34,282.75 322.35,282.60 322.37,282.35 322.39,282.00 322.41,281.55 322.44,281.00 322.48,280.36 322.52,279.62 322.56,278.78 322.60,277.84 322.64,276.81 322.68,275.69 322.72,274.48 322.77,273.18 322.82,271.79 322.87,270.31 322.91,268.75 322.95,267.11 323.00,265.39 323.05,263.58 323.17,261.70 323.29,259.75 323.42,257.73 323.56,255.63 323.72,253.47 323.90,251.25 324.09,248.97 324.31,246.62 324.55,244.23 324.81,241.78 325.09,239.28 325.38,236.74 325.69,234.15 325.99,231.52 326.21,228.86 326.44,226.16 326.67,223.44 326.90,220.69 327.10,217.91 327.26,215.12 327.41,212.31 327.57,209.49 327.72,206.66 327.88,203.82 328.04,200.98 328.20,198.14 328.27,195.31 328.35,192.49 328.42,189.68 328.49,186.89 328.57,184.11 328.64,181.36 328.71,178.64 328.78,175.94 328.85,173.28 328.92,170.65 328.98,168.06 329.05,165.52 329.11,163.02 329.18,160.57 329.24,158.18 329.30,155.83 329.36,153.55 329.42,151.33 329.49,149.17 329.55,147.07 329.61,145.05 329.67,143.10 329.73,141.22 329.78,139.41 329.83,137.69 329.88,136.05 329.93,134.49 329.97,133.01 330.01,131.62 330.05,130.32 330.09,129.11 330.12,127.99 330.15,126.96 330.18,126.02 330.21,125.18 330.23,124.44 330.25,123.80 330.26,123.25 330.28,122.80 330.29,122.45 330.30,122.20 330.30,122.05 330.30,122.00 330.27,122.05 330.27,122.21 330.28,122.47 330.29,122.83 330.29,123.29 330.30,123.86 330.31,124.52 330.33,125.29 330.34,126.16 330.36,127.12 330.37,128.18 330.39,129.34 330.41,130.59 330.43,131.94 330.46,133.37 330.48,134.90 330.51,136.51 330.54,138.21 330.56,139.99 330.59,141.85 330.63,143.79 330.66,145.81 330.69,147.90 330.73,150.06 330.76,152.29 330.80,154.59 330.83,156.95 330.87,159.37 330.91,161.84 330.94,164.37 330.98,166.95 331.02,169.58 331.06,172.26 331.10,174.97 331.15,177.72 331.19,180.50 331.23,183.32 331.27,186.16 331.32,189.03 331.36,191.91 331.41,194.82 331.45,197.73 331.59,200.65 331.74,203.58 331.89,206.52 332.03,209.45 332.18,212.37 332.32,215.28 332.46,218.19 332.59,221.07 332.73,223.94 332.94,226.78 333.15,229.60 333.37,232.38 333.66,235.13 333.92,237.84 334.13,240.52 334.31,243.15 334.46,245.73 334.60,248.26 334.73,250.73 334.85,253.15 334.96,255.51 335.06,257.81 335.17,260.04 335.26,262.20 335.36,264.29 335.45,266.31 335.54,268.25 335.59,270.11 335.62,271.89 335.65,273.59 335.67,275.20 335.71,276.73 335.75,278.16 335.78,279.51 335.82,280.76 335.85,281.92 335.88,282.98 335.91,283.94 335.94,284.81 335.97,285.58 335.99,286.24 336.01,286.81 336.03,287.27 336.05,287.63 336.06,287.89 336.06,288.05 336.06,288.10 335.40,302.30 335.03,288.10 335.03,288.05 335.04,287.91 335.05,287.66 335.08,287.32 335.10,286.89 335.14,286.36 335.18,285.73 335.22,285.01 335.27,284.19 335.31,283.29 335.35,282.29 335.40,281.20 335.45,280.03 335.50,278.76 335.56,277.41 335.61,275.98 335.67,274.46 335.73,272.87 335.79,271.19 335.87,269.44 335.99,267.62 336.14,265.72 336.30,263.76 336.48,261.73 336.68,259.63 336.90,257.47 337.13,255.26 337.38,252.98 337.65,250.65 337.93,248.28 338.23,245.85 338.53,243.38 338.80,240.87 339.01,238.32 339.23,235.74 339.45,233.12 339.67,230.47 339.90,227.80 340.12,225.11 340.30,222.40 340.45,219.67 340.61,216.93 340.76,214.18 340.91,211.43 341.07,208.67 341.16,205.92 341.23,203.17 341.30,200.43 341.37,197.70 341.44,194.99 341.51,192.30 341.58,189.63 341.65,186.98 341.72,184.36 341.79,181.78 341.85,179.23 341.92,176.72 341.98,174.25 342.05,171.82 342.11,169.45 342.17,167.12 342.23,164.84 342.29,162.63 342.35,160.47 342.41,158.37 342.47,156.34 342.53,154.38 342.59,152.48 342.64,150.66 342.69,148.91 342.74,147.23 342.79,145.64 342.84,144.12 342.88,142.69 342.92,141.34 342.96,140.07 342.99,138.90 343.03,137.81 343.06,136.81 343.08,135.91 343.11,135.09 343.13,134.37 343.15,133.74 343.17,133.21 343.18,132.78 343.19,132.44 343.20,132.19 343.20,132.05 343.20,132.00 343.19,132.05 343.19,132.19 343.20,132.43 343.20,132.76 343.21,133.19 343.22,133.71 343.23,134.33 343.24,135.04 343.25,135.84 343.27,136.73 343.28,137.71 343.30,138.78 343.32,139.93 343.34,141.18 343.36,142.50 343.39,143.91 343.41,145.40 343.44,146.97 343.46,148.61 343.49,150.33 343.52,152.13 343.55,153.99 343.58,155.92 343.62,157.92 343.65,159.98 343.69,162.10 343.72,164.28 343.75,166.51 343.79,168.80 343.82,171.13 343.86,173.52 343.90,175.94 343.93,178.41 343.97,180.92 344.01,183.46 344.05,186.03 344.09,188.63 344.13,191.26 344.17,193.90 344.21,196.57 344.25,199.25 344.29,201.94 344.34,204.64 344.38,207.35 344.49,210.05 344.64,212.76 344.78,215.46 344.92,218.15 345.06,220.83 345.25,223.50 345.47,226.14 345.68,228.77 345.89,231.37 346.09,233.94 346.29,236.48 346.48,238.99 346.68,241.46 346.96,243.88 347.25,246.27 347.51,248.60 347.74,250.89 347.94,253.12 348.11,255.30 348.26,257.42 348.39,259.48 348.50,261.48 348.60,263.41 348.70,265.27 348.77,267.07 348.80,268.79 348.83,270.43 348.86,272.00 348.89,273.49 348.93,274.90 348.96,276.22 349.00,277.47 349.03,278.62 349.06,279.69 349.09,280.67 349.12,281.56 349.15,282.36 349.17,283.07 349.20,283.69 349.22,284.21 349.23,284.64 349.25,284.97 349.25,285.21 349.26,285.35 349.26,285.40 348.60,297.70 348.13,285.40 348.13,285.35 348.14,285.21 348.15,284.97 348.17,284.64 348.20,284.22 348.23,283.70 348.26,283.09 348.30,282.38 348.34,281.59 348.38,280.70 348.42,279.73 348.46,278.67 348.50,277.52 348.55,276.28 348.61,274.97 348.66,273.57 348.72,272.09 348.77,270.53 348.84,268.90 348.91,267.19 349.02,265.41 349.17,263.55 349.33,261.64 349.52,259.65 349.72,257.61 349.93,255.50 350.17,253.33 350.42,251.11 350.69,248.84 350.97,246.52 351.26,244.15 351.51,241.74 351.71,239.29 351.92,236.80 352.13,234.28 352.35,231.72 352.56,229.14 352.78,226.53 353.00,223.90 353.22,221.25 353.37,218.59 353.52,215.92 353.67,213.23 353.82,210.54 353.93,207.86 354.00,205.17 354.07,202.48 354.14,199.81 354.21,197.15 354.28,194.50 354.35,191.87 354.42,189.26 354.48,186.68 354.55,184.12 354.62,181.60 354.68,179.11 354.75,176.66 354.81,174.25 354.87,171.88 354.93,169.56 354.99,167.29 355.05,165.07 355.10,162.90 355.17,160.79 355.23,158.75 355.29,156.76 355.35,154.85 355.40,152.99 355.45,151.21 355.51,149.50 355.56,147.87 355.60,146.31 355.65,144.83 355.69,143.43 355.73,142.12 355.76,140.88 355.80,139.73 355.83,138.67 355.86,137.70 355.89,136.81 355.91,136.02 355.93,135.31 355.95,134.70 355.97,134.18 355.98,133.76 355.99,133.43 356.00,133.19 356.00,133.05 356.00,133.00 355.97,133.05 355.97,133.19 355.98,133.43 355.98,133.77 355.99,134.20 356.00,134.72 356.01,135.34 356.02,136.05 356.03,136.86 356.05,137.75 356.06,138.74 356.08,139.81 356.10,140.98 356.12,142.22 356.14,143.56 356.16,144.97 356.19,146.47 356.21,148.05 356.24,149.70 356.27,151.43 356.30,153.23 356.33,155.10 356.36,157.04 356.39,159.05 356.43,161.12 356.46,163.25 356.49,165.44 356.53,167.69 356.56,169.99 356.60,172.34 356.63,174.73 356.67,177.17 356.71,179.65 356.75,182.17 356.78,184.73 356.82,187.31 356.86,189.93 356.90,192.56 356.94,195.23 356.98,197.90 357.03,200.60 357.07,203.30 357.11,206.02 357.15,208.74 357.28,211.46 357.41,214.18 357.54,216.90 357.67,219.60 357.80,222.30 357.97,224.97 358.17,227.64 358.36,230.27 358.54,232.89 358.72,235.47 358.89,238.03 359.06,240.55 359.21,243.03 359.43,245.47 359.61,247.86 359.77,250.21 359.91,252.51 360.03,254.76 360.14,256.95 360.25,259.08 360.35,261.15 360.44,263.16 360.53,265.10 360.62,266.97 360.68,268.77 360.71,270.50 360.74,272.15 360.76,273.73 360.79,275.23 360.83,276.64 360.87,277.98 360.90,279.22 360.93,280.39 360.96,281.46 360.99,282.45 361.02,283.34 361.05,284.15 361.07,284.86 361.10,285.48 361.12,286.00 361.13,286.43 361.15,286.77 361.16,287.01 361.16,287.15 361.16,287.20 360.60,304.10 359.95,287.20 359.95,287.15 359.96,287.00 359.97,286.75 359.99,286.39 360.01,285.94 360.04,285.39 360.08,284.74 360.11,283.99 360.15,283.14 360.18,282.20 360.22,281.16 360.25,280.03 360.29,278.81 360.33,277.50 360.38,276.09 360.42,274.61 360.46,273.03 360.49,271.37 360.53,269.63 360.59,267.82 360.70,265.92 360.81,263.95 360.93,261.91 361.06,259.80 361.21,257.62 361.37,255.38 361.56,253.07 361.76,250.71 361.99,248.29 362.24,245.82 362.51,243.30 362.81,240.73 363.11,238.12 363.44,235.48 363.68,232.79 363.90,230.07 364.13,227.32 364.36,224.54 364.56,221.75 364.71,218.93 364.87,216.09 365.02,213.25 365.18,210.39 365.34,207.53 365.50,204.67 365.66,201.81 365.76,198.95 365.83,196.11 365.90,193.27 365.98,190.45 366.05,187.66 366.12,184.88 366.19,182.13 366.27,179.41 366.34,176.72 366.40,174.08 366.47,171.47 366.54,168.90 366.61,166.38 366.67,163.91 366.73,161.49 366.79,159.13 366.85,156.82 366.91,154.58 366.98,152.40 367.04,150.29 367.10,148.25 367.16,146.28 367.22,144.38 367.27,142.57 367.33,140.83 367.38,139.17 367.42,137.59 367.47,136.11 367.51,134.70 367.55,133.39 367.59,132.17 367.62,131.04 367.65,130.00 367.68,129.06 367.71,128.21 367.73,127.46 367.75,126.81 367.76,126.26 367.78,125.81 367.79,125.45 367.80,125.20 367.80,125.05 367.80,125.00 367.71,125.05 367.71,125.19 367.71,125.42 367.72,125.75 367.72,126.18 367.73,126.69 367.74,127.30 367.75,128.00 367.77,128.79 367.78,129.66 367.79,130.63 367.81,131.69 367.83,132.83 367.85,134.05 367.87,135.36 367.89,136.75 367.91,138.22 367.94,139.76 367.96,141.39 367.99,143.08 368.01,144.85 368.04,146.69 368.07,148.59 368.10,150.56 368.13,152.59 368.16,154.69 368.19,156.83 368.22,159.04 368.26,161.29 368.29,163.60 368.32,165.95 368.36,168.34 368.40,170.78 368.43,173.25 368.47,175.75 368.51,178.29 368.55,180.86 368.58,183.44 368.62,186.06 368.66,188.68 368.70,191.33 368.74,193.98 368.78,196.65 368.82,199.31 368.88,201.99 368.99,204.65 369.09,207.32 369.18,209.97 369.28,212.62 369.44,215.24 369.59,217.86 369.73,220.44 369.87,223.01 370.01,225.55 370.14,228.05 370.27,230.52 370.39,232.96 370.52,235.35 370.65,237.70 370.77,240.01 370.88,242.26 370.99,244.47 371.09,246.61 371.19,248.71 371.28,250.74 371.37,252.71 371.45,254.61 371.54,256.45 371.59,258.22 371.62,259.91 371.64,261.54 371.67,263.08 371.70,264.55 371.73,265.94 371.77,267.25 371.80,268.47 371.84,269.61 371.87,270.67 371.89,271.64 371.92,272.51 371.95,273.30 371.98,274.00 372.00,274.61 372.02,275.12 372.03,275.55 372.05,275.88 372.06,276.11 372.06,276.25 372.06,276.30 371.40,294.00 370.88,276.30 370.88,276.26 370.89,276.12 370.90,275.90 370.92,275.58 370.94,275.18 370.96,274.69 371.00,274.11 371.03,273.44 371.07,272.69 371.11,271.85 371.15,270.93 371.19,269.92 371.23,268.84 371.28,267.67 371.33,266.42 371.39,265.10 371.45,263.69 371.51,262.22 371.58,260.67 371.66,259.05 371.75,257.37 371.90,255.62 372.07,253.80 372.26,251.92 372.47,249.98 372.69,247.99 372.92,245.94 373.17,243.84 373.42,241.69 373.59,239.49 373.78,237.25 373.97,234.96 374.16,232.64 374.36,230.28 374.56,227.89 374.76,225.47 374.96,223.03 375.17,220.56 375.38,218.07 375.59,215.56 375.81,213.04 375.97,210.51 376.11,207.97 376.17,205.42 376.24,202.88 376.31,200.33 376.37,197.79 376.44,195.26 376.50,192.74 376.57,190.23 376.63,187.74 376.70,185.27 376.76,182.83 376.82,180.41 376.89,178.02 376.95,175.66 377.01,173.34 377.07,171.05 377.13,168.81 377.18,166.61 377.24,164.46 377.29,162.36 377.35,160.31 377.41,158.32 377.47,156.38 377.53,154.50 377.58,152.68 377.63,150.93 377.69,149.25 377.73,147.63 377.78,146.08 377.82,144.61 377.87,143.20 377.91,141.88 377.94,140.63 377.98,139.46 378.01,138.38 378.04,137.37 378.07,136.45 378.09,135.61 378.12,134.86 378.14,134.19 378.15,133.61 378.17,133.12 378.18,132.72 378.19,132.40 378.20,132.18 378.20,132.04 378.20,132.00 378.17,132.05 378.17,132.19 378.18,132.43 378.18,132.77 378.19,133.20 378.20,133.72 378.21,134.34 378.22,135.05 378.23,135.85 378.25,136.75 378.26,137.73 378.28,138.81 378.30,139.97 378.32,141.21 378.34,142.54 378.36,143.96 378.39,145.45 378.41,147.03 378.44,148.68 378.47,150.40 378.50,152.20 378.53,154.07 378.56,156.01 378.59,158.02 378.62,160.09 378.66,162.22 378.69,164.40 378.73,166.65 378.76,168.94 378.80,171.29 378.83,173.68 378.87,176.12 378.91,178.59 378.94,181.11 378.98,183.66 379.02,186.24 379.06,188.85 379.10,191.49 379.14,194.14 379.18,196.82 379.22,199.51 379.27,202.21 379.31,204.92 379.36,207.64 379.49,210.36 379.63,213.08 379.77,215.79 379.91,218.49 380.05,221.18 380.24,223.86 380.45,226.51 380.66,229.15 380.87,231.76 381.08,234.34 381.27,236.89 381.46,239.41 381.65,241.88 381.93,244.32 382.20,246.71 382.43,249.06 382.63,251.35 382.80,253.60 382.94,255.78 383.07,257.91 383.19,259.98 383.30,261.99 383.39,263.93 383.48,265.80 383.55,267.60 383.58,269.32 383.61,270.97 383.64,272.55 383.67,274.04 383.71,275.46 383.75,276.79 383.78,278.03 383.82,279.19 383.85,280.27 383.88,281.25 383.90,282.15 383.93,282.95 383.96,283.66 383.98,284.28 384.00,284.80 384.02,285.23 384.03,285.57 384.04,285.81 384.05,285.95 384.05,286.00 383.50,303.50 382.95,286.00 382.96,285.95 382.96,285.80 382.98,285.55 383.00,285.20 383.02,284.75 383.06,284.20 383.09,283.56 383.14,282.81 383.17,281.97 383.21,281.04 383.25,280.01 383.30,278.89 383.34,277.67 383.39,276.37 383.44,274.98 383.49,273.50 383.53,271.94 383.58,270.29 383.63,268.56 383.69,266.76 383.81,264.88 383.94,262.92 384.08,260.90 384.23,258.80 384.40,256.64 384.59,254.41 384.80,252.12 385.03,249.78 385.29,247.38 385.56,244.93 385.85,242.43 386.15,239.88 386.47,237.29 386.78,234.66 387.00,231.99 387.23,229.29 387.46,226.56 387.69,223.81 387.89,221.03 388.05,218.23 388.20,215.42 388.36,212.59 388.52,209.76 388.67,206.92 388.83,204.08 388.99,201.24 389.07,198.41 389.14,195.58 389.22,192.77 389.29,189.97 389.36,187.19 389.44,184.44 389.51,181.71 389.58,179.01 389.65,176.34 389.71,173.71 389.78,171.12 389.85,168.57 389.91,166.07 389.98,163.62 390.04,161.22 390.10,158.88 390.16,156.59 390.22,154.36 390.29,152.20 390.35,150.10 390.41,148.08 390.47,146.12 390.52,144.24 390.58,142.44 390.63,140.71 390.68,139.06 390.73,137.50 390.77,136.02 390.81,134.63 390.85,133.33 390.89,132.11 390.92,130.99 390.95,129.96 390.98,129.03 391.01,128.19 391.03,127.44 391.05,126.80 391.07,126.25 391.08,125.80 391.09,125.45 391.10,125.20 391.10,125.05 391.10,125.00 391.07,125.05 391.07,125.20 391.08,125.46 391.08,125.81 391.09,126.27 391.10,126.82 391.11,127.48 391.12,128.23 391.14,129.08 391.15,130.03 391.17,131.07 391.19,132.21 391.21,133.44 391.23,134.76 391.25,136.17 391.28,137.67 391.30,139.26 391.33,140.92 391.36,142.67 391.39,144.50 391.42,146.41 391.45,148.39 391.48,150.45 391.52,152.57 391.55,154.76 391.59,157.02 391.62,159.34 391.66,161.72 391.70,164.15 391.73,166.63 391.77,169.17 391.81,171.75 391.85,174.38 391.89,177.04 391.93,179.75 391.97,182.48 392.02,185.25 392.06,188.04 392.10,190.86 392.14,193.69 392.19,196.54 392.23,199.41 392.32,202.28 392.47,205.16 392.62,208.04 392.77,210.92 392.92,213.79 393.06,216.66 393.21,219.51 393.35,222.34 393.53,225.16 393.75,227.95 393.97,230.72 394.19,233.45 394.46,236.16 394.78,238.82 395.06,241.45 395.31,244.03 395.52,246.57 395.71,249.05 395.86,251.48 396.00,253.86 396.13,256.18 396.24,258.44 396.35,260.63 396.46,262.75 396.56,264.81 396.65,266.79 396.74,268.70 396.79,270.53 396.82,272.28 396.85,273.94 396.88,275.53 396.92,277.03 396.96,278.44 397.00,279.76 397.04,280.99 397.07,282.13 397.10,283.17 397.14,284.12 397.17,284.97 397.20,285.72 397.22,286.38 397.25,286.93 397.27,287.39 397.28,287.74 397.29,288.00 397.30,288.15 397.30,288.20 396.80,305.20 396.88,288.20 396.89,288.15 396.90,288.00 396.92,287.74 396.96,287.39 397.00,286.93 397.05,286.38 397.11,285.72 397.18,284.97 397.26,284.12 397.34,283.17 397.42,282.13 397.52,280.99 397.62,279.76 397.74,278.44 397.87,277.03 398.00,275.53 398.15,273.94 398.30,272.28 398.47,270.53 398.67,268.70 398.92,266.79 399.18,264.81 399.43,262.75 399.70,260.63 399.98,258.44 400.27,256.18 400.56,253.86 400.87,251.48 401.18,249.05 401.50,246.57 401.83,244.03 402.16,241.45 402.50,238.82 402.84,236.16 403.12,233.45 403.35,230.72 403.59,227.95 403.82,225.16 404.01,222.34 404.17,219.51 404.33,216.66 404.49,213.79 404.65,210.92 404.81,208.04 404.97,205.16 405.13,202.28 405.24,199.41 405.32,196.54 405.39,193.69 405.46,190.86 405.54,188.04 405.61,185.25 405.68,182.48 405.75,179.75 405.83,177.04 405.89,174.38 405.96,171.75 406.03,169.17 406.10,166.63 406.16,164.15 406.22,161.72 406.29,159.34 406.35,157.02 406.41,154.76 406.47,152.57 406.54,150.45 406.60,148.39 406.66,146.41 406.72,144.50 406.77,142.67 406.82,140.92 406.87,139.26 406.92,137.67 406.96,136.17 407.01,134.76 407.05,133.44 407.08,132.21 407.12,131.07 407.15,130.03 407.18,129.08 407.20,128.23 407.23,127.48 407.25,126.82 407.26,126.27 407.28,125.81 407.29,125.46 407.29,125.20 407.30,125.05 407.30,125.00 407.28,125.05 407.28,125.20 407.28,125.46 407.29,125.82 407.30,126.28 407.31,126.84 407.32,127.50 407.33,128.26 407.34,129.12 407.36,130.07 407.38,131.12 407.40,132.27 407.42,133.51 407.44,134.84 407.46,136.26 407.49,137.77 407.51,139.37 407.54,141.05 407.57,142.82 407.60,144.66 407.63,146.58 407.66,148.58 407.70,150.65 407.73,152.79 407.77,155.00 407.80,157.28 407.84,159.61 407.87,162.01 407.91,164.46 407.95,166.97 407.99,169.52 408.03,172.12 408.07,174.77 408.11,177.46 408.15,180.18 408.19,182.94 408.23,185.73 408.28,188.54 408.32,191.38 408.36,194.24 408.41,197.11 408.45,200.00 408.57,202.90 408.72,205.80 408.87,208.70 409.02,211.60 409.17,214.50 409.31,217.39 409.46,220.26 409.61,223.12 409.76,225.96 409.99,228.77 410.21,231.56 410.43,234.32 410.75,237.04 411.07,239.73 411.35,242.38 411.60,244.98 411.81,247.53 412.00,250.04 412.15,252.49 412.29,254.89 412.42,257.22 412.53,259.50 412.64,261.71 412.75,263.85 412.85,265.92 412.94,267.92 413.03,269.84 413.08,271.68 413.12,273.45 413.15,275.13 413.17,276.73 413.21,278.24 413.25,279.66 413.30,280.99 413.33,282.23 413.37,283.38 413.40,284.43 413.43,285.38 413.47,286.24 413.50,287.00 413.52,287.66 413.55,288.22 413.57,288.68 413.58,289.04 413.59,289.30 413.60,289.45 413.60,289.50 413.10,300.80 412.54,289.50 412.54,289.45 412.55,289.29 412.57,289.03 412.59,288.67 412.61,288.20 412.64,287.63 412.68,286.96 412.73,286.18 412.76,285.31 412.80,284.34 412.84,283.27 412.88,282.10 412.93,280.84 412.98,279.48 413.03,278.03 413.07,276.49 413.11,274.87 413.15,273.16 413.20,271.36 413.28,269.48 413.39,267.52 413.51,265.49 413.64,263.38 413.78,261.20 413.93,258.95 414.10,256.64 414.29,254.26 414.50,251.82 414.74,249.32 415.00,246.77 415.28,244.17 415.58,241.52 415.90,238.82 416.23,236.09 416.57,233.31 416.86,230.50 417.10,227.66 417.32,224.80 417.48,221.91 417.64,219.00 417.80,216.07 417.96,213.13 418.13,210.18 418.29,207.23 418.45,204.27 418.62,201.32 418.78,198.37 418.87,195.43 418.95,192.50 419.02,189.59 419.10,186.70 419.17,183.84 419.25,181.00 419.32,178.19 419.39,175.41 419.46,172.68 419.53,169.98 419.60,167.33 419.67,164.73 419.74,162.18 419.80,159.68 419.86,157.24 419.93,154.86 419.99,152.55 420.05,150.30 420.12,148.12 420.18,146.01 420.24,143.98 420.30,142.02 420.36,140.14 420.41,138.34 420.46,136.63 420.51,135.01 420.56,133.47 420.60,132.02 420.64,130.66 420.68,129.40 420.71,128.23 420.75,127.16 420.78,126.19 420.80,125.32 420.83,124.54 420.85,123.87 420.86,123.30 420.88,122.83 420.89,122.47 420.90,122.21 420.90,122.05 420.90,122.00 420.82,122.05 420.83,122.21 420.83,122.47 420.84,122.83 420.85,123.29 420.86,123.86 420.87,124.52 420.89,125.29 420.90,126.16 420.92,127.12 420.93,128.19 420.95,129.34 420.97,130.60 420.99,131.94 421.02,133.38 421.04,134.90 421.07,136.52 421.09,138.22 421.12,140.00 421.15,141.86 421.18,143.80 421.21,145.82 421.24,147.92 421.28,150.08 421.31,152.31 421.34,154.61 421.38,156.97 421.41,159.39 421.45,161.87 421.49,164.40 421.53,166.98 421.57,169.61 421.61,172.29 421.65,175.00 421.69,177.75 421.73,180.54 421.77,183.36 421.82,186.20 421.86,189.07 421.90,191.96 421.95,194.86 421.99,197.78 422.12,200.70 422.26,203.63 422.40,206.57 422.55,209.50 422.69,212.42 422.83,215.34 422.97,218.24 423.10,221.13 423.24,224.00 423.45,226.84 423.66,229.66 423.89,232.45 424.18,235.20 424.41,237.91 424.61,240.59 424.78,243.22 424.92,245.80 425.05,248.33 425.18,250.81 425.30,253.23 425.41,255.59 425.51,257.89 425.62,260.12 425.72,262.28 425.81,264.38 425.90,266.40 425.99,268.34 426.05,270.20 426.08,271.98 426.11,273.68 426.13,275.30 426.17,276.82 426.21,278.26 426.25,279.60 426.28,280.86 426.32,282.01 426.35,283.08 426.38,284.04 426.41,284.91 426.44,285.68 426.47,286.34 426.49,286.91 426.51,287.37 426.52,287.73 426.53,287.99 426.54,288.15 426.54,288.20 425.90,300.20 425.46,288.20 425.46,288.15 425.47,287.99 425.49,287.72 425.51,287.35 425.54,286.88 425.57,286.30 425.61,285.62 425.66,284.83 425.69,283.94 425.74,282.95 425.78,281.87 425.82,280.68 425.87,279.40 425.92,278.02 425.97,276.55 426.01,274.98 426.05,273.33 426.09,271.59 426.14,269.77 426.23,267.86 426.34,265.87 426.46,263.80 426.59,261.66 426.73,259.45 426.89,257.16 427.05,254.81 427.24,252.39 427.45,249.91 427.68,247.37 427.94,244.78 428.22,242.14 428.52,239.44 428.84,236.70 429.17,233.92 429.52,231.11 429.88,228.25 430.13,225.37 430.32,222.45 430.49,219.52 430.65,216.56 430.81,213.59 430.98,210.60 431.15,207.60 431.31,204.60 431.48,201.60 431.65,198.60 431.81,195.60 431.94,192.61 432.02,189.64 432.09,186.68 432.17,183.75 432.25,180.83 432.32,177.95 432.39,175.09 432.47,172.28 432.54,169.50 432.61,166.76 432.68,164.06 432.75,161.42 432.82,158.83 432.89,156.29 432.95,153.81 433.01,151.39 433.07,149.04 433.14,146.75 433.21,144.54 433.27,142.40 433.33,140.33 433.39,138.34 433.45,136.43 433.50,134.61 433.56,132.87 433.61,131.22 433.65,129.65 433.70,128.18 433.74,126.80 433.78,125.52 433.81,124.33 433.85,123.25 433.88,122.26 433.90,121.37 433.93,120.58 433.95,119.90 433.96,119.32 433.98,118.85 433.99,118.48 434.00,118.21 434.00,118.05 434.00,118.00 433.90,118.05 433.90,118.21 433.91,118.48 433.91,118.85 433.92,119.33 433.93,119.91 433.95,120.60 433.96,121.39 433.98,122.28 434.00,123.28 434.02,124.37 434.04,125.57 434.06,126.86 434.08,128.24 434.11,129.72 434.13,131.29 434.16,132.96 434.19,134.71 434.22,136.54 434.25,138.46 434.28,140.46 434.31,142.54 434.34,144.70 434.37,146.92 434.41,149.22 434.44,151.59 434.47,154.02 434.51,156.52 434.55,159.07 434.59,161.68 434.63,164.34 434.67,167.04 434.71,169.80 434.75,172.59 434.79,175.43 434.83,178.30 434.88,181.20 434.92,184.13 434.96,187.09 435.01,190.06 435.05,193.05 435.15,196.06 435.28,199.07 435.40,202.09 435.50,205.11 435.60,208.13 435.70,211.14 435.78,214.15 435.85,217.14 435.92,220.11 435.98,223.07 436.06,226.00 436.20,228.90 436.34,231.77 436.47,234.61 436.60,237.40 436.72,240.16 436.85,242.86 436.97,245.52 437.09,248.13 437.20,250.68 437.31,253.18 437.42,255.61 437.53,257.98 437.63,260.28 437.73,262.50 437.83,264.66 437.92,266.74 438.01,268.74 438.08,270.66 438.11,272.49 438.14,274.24 438.17,275.91 438.20,277.48 438.24,278.96 438.28,280.34 438.31,281.63 438.35,282.83 438.38,283.92 438.41,284.92 438.44,285.81 438.47,286.60 438.49,287.29 438.51,287.87 438.53,288.35 438.54,288.72 438.55,288.99 438.56,289.15 438.56,289.20 438.00,302.60 445.30,278.30" fill="none" stroke="#ff0000" stroke-width="2.0" stroke-dasharray="7 7.3" stroke-linejoin="round"/>
<polyline points="153.00,44.30 154.42,44.98 155.83,45.67 157.25,46.35 158.67,47.03 160.09,47.71 161.50,48.39 162.92,49.07 164.34,49.75 165.75,50.42 167.17,51.07 168.59,51.71 170.01,52.33 171.42,52.95 172.84,53.59 174.26,54.24 175.67,54.94 177.09,55.67 178.51,56.46 179.92,57.34 181.34,58.32 182.76,59.37 184.18,60.48 185.59,61.63 187.01,62.80 188.43,63.99 189.84,65.16 191.26,66.30 192.68,67.39 194.10,68.42 195.51,69.37 196.93,70.29 198.35,71.19 199.76,72.07 201.18,72.93 202.60,73.77 204.02,74.58 205.43,75.35 206.85,76.09 208.27,76.80 209.68,77.46 211.10,78.07 212.52,78.64 213.93,79.19 215.35,79.71 216.77,80.23 218.19,80.76 219.60,81.30 221.02,81.88 222.44,82.50 223.85,83.18 225.27,83.90 226.69,84.63 228.11,85.34 229.52,86.00 230.94,86.59 232.36,87.17 233.77,87.69 235.19,88.10 236.61,88.41 238.03,88.69 239.44,88.94 240.86,89.16 242.28,89.34 243.69,89.48 245.11,89.58 246.53,89.65 247.94,89.71 249.36,89.77 250.78,89.85 252.20,89.95 253.61,90.08 255.03,90.24 256.45,90.42 257.86,90.61 259.28,90.82 260.70,91.03 262.12,91.25 263.53,91.45 264.95,91.65 266.37,91.84 267.78,92.04 269.20,92.24 270.62,92.44 272.04,92.64 273.45,92.84 274.87,93.04 276.29,93.24 277.70,93.44 279.12,93.63 280.54,93.83 281.95,94.01 283.37,94.19 284.79,94.36 286.21,94.54 287.62,94.72 289.04,94.91 290.46,95.11 291.87,95.33 293.29,95.57 294.71,95.86 296.13,96.20 297.54,96.55 298.96,96.92 300.38,97.26 301.79,97.57 303.21,97.82 304.63,98.03 306.05,98.23 307.46,98.43 308.88,98.61 310.30,98.77 311.71,98.93 313.13,99.06 314.55,99.18 315.96,99.28 317.38,99.37 318.80,99.44 320.22,99.51 321.63,99.56 323.05,99.61 324.47,99.66 325.88,99.72 327.30,99.77 328.72,99.83 330.14,99.91 331.55,99.99 332.97,100.07 334.39,100.15 335.80,100.24 337.22,100.33 338.64,100.44 340.06,100.55 341.47,100.67 342.89,100.81 344.31,100.96 345.72,101.14 347.14,101.36 348.56,101.61 349.97,101.89 351.39,102.18 352.81,102.48 354.23,102.78 355.64,103.08 357.06,103.39 358.48,103.74 359.89,104.10 361.31,104.39 362.73,104.59 364.15,104.76 365.56,104.91 366.98,105.04 368.40,105.16 369.81,105.26 371.23,105.35 372.65,105.44 374.07,105.52 375.48,105.59 376.90,105.66 378.32,105.73 379.73,105.79 381.15,105.83 382.57,105.87 383.98,105.90 385.40,105.92 386.82,105.94 388.24,105.96 389.65,105.97 391.07,105.98 392.49,105.99 393.90,106.00 395.32,106.00 396.74,105.99 398.16,105.97 399.57,105.94 400.99,105.90 402.41,105.87 403.82,105.83 405.24,105.81 406.66,105.80 408.08,105.80 409.49,105.80 410.91,105.80 412.33,105.80 413.74,105.80 415.16,105.80 416.58,105.80 417.99,105.80 419.41,105.80 420.83,105.80 422.25,105.80 423.66,105.79 425.08,105.77 426.50,105.76 427.91,105.74 429.33,105.71 430.75,105.69 432.17,105.66 433.58,105.63 435.00,105.60" fill="none" stroke="#333" stroke-width="1" stroke-dasharray="3 2.4"/>
<g stroke="#000" stroke-width="2" fill="none">
<line x1="66" y1="17.9" x2="464" y2="17.9"/>
<line x1="66" y1="321.8" x2="471.2" y2="321.8"/>
<line x1="67.0" y1="16.9" x2="67.0" y2="322.8"/>
</g>
<g stroke="#000" stroke-width="2">
<line x1="67.0" y1="61.3" x2="75" y2="61.3"/>
<line x1="67.0" y1="104.7" x2="75" y2="104.7"/>
<line x1="67.0" y1="148.1" x2="75" y2="148.1"/>
<line x1="67.0" y1="191.6" x2="75" y2="191.6"/>
<line x1="67.0" y1="235.0" x2="75" y2="235.0"/>
<line x1="67.0" y1="278.4" x2="75" y2="278.4"/>
<line x1="168.2" y1="321.8" x2="168.2" y2="314"/>
<line x1="168.2" y1="17.9" x2="168.2" y2="25.5"/>
<line x1="269.4" y1="321.8" x2="269.4" y2="314"/>
<line x1="269.4" y1="17.9" x2="269.4" y2="25.5"/>
<line x1="370.6" y1="321.8" x2="370.6" y2="314"/>
<line x1="370.6" y1="17.9" x2="370.6" y2="25.5"/>
</g>
<g stroke="#ff0000" stroke-width="1.8">
<line x1="472" y1="16.9" x2="472" y2="322.7"/>
<line x1="463.8" y1="17.9" x2="472" y2="17.9"/>
<line x1="463.8" y1="64.7" x2="472" y2="64.7"/>
<line x1="463.8" y1="111.4" x2="472" y2="111.4"/>
<line x1="463.8" y1="158.2" x2="472" y2="158.2"/>
<line x1="463.8" y1="204.9" x2="472" y2="204.9"/>
<line x1="463.8" y1="251.7" x2="472" y2="251.7"/>
<line x1="463.8" y1="298.4" x2="472" y2="298.4"/>
</g>
<g style="font-family:'Liberation Serif','Times New Roman',serif;font-size:26px" fill="#000" text-anchor="end">
<text x="57" y="25.9">24</text>
<text x="57" y="69.3">20</text>
<text x="57" y="112.7">16</text>
<text x="57" y="156.1">12</text>
<text x="57" y="199.6">8</text>
<text x="57" y="243.0">4</text>
<text x="57" y="286.4">0</text>
<text x="57" y="329.8">-4</text>
</g>
<g style="font-family:'Liberation Serif','Times New Roman',serif;font-size:26px" fill="#000" text-anchor="middle">
<text x="67.0" y="350.2">0</text>
<text x="168.2" y="350.2">1000</text>
<text x="269.4" y="350.2">2000</text>
<text x="370.6" y="350.2">3000</text>
<text x="471.8" y="350.2">4000</text>
</g>
<g style="font-family:'Liberation Serif','Times New Roman',serif;font-size:26px" fill="#ff0000" text-anchor="start">
<text x="480" y="25.4">240</text>
<text x="480" y="72.2">200</text>
<text x="480" y="118.9">160</text>
<text x="480" y="165.7">120</text>
<text x="480" y="212.4">80</text>
<text x="480" y="259.2">40</text>
<text x="480" y="305.9">0</text>
</g>
<text style="font-family:'Liberation Serif','Times New Roman',serif;font-size:26px" x="270" y="391.4" text-anchor="middle">Time(s)</text>
<text style="font-family:'Liberation Serif','Times New Roman',serif;font-size:26px" transform="translate(23,169.5) rotate(-90)" text-anchor="middle">Force(kN)</text>
<text style="font-family:'Liberation Serif','Times New Roman',serif;font-size:26px" transform="translate(529.3,170.5) rotate(90)" text-anchor="middle">Temperature(°C)</text>
<rect x="224.6" y="28.8" width="130.4" height="44.5" fill="#fff" stroke="#000" stroke-width="1.6"/>
<line x1="226.7" y1="41" x2="264.1" y2="41" stroke="#000" stroke-width="1.9"/>
<line x1="226.7" y1="61.2" x2="264" y2="61.2" stroke="#ff0000" stroke-width="2.3" stroke-dasharray="7 7.2"/>
<text style="font-family:'Liberation Serif','Times New Roman',serif;font-size:16.6px" x="268.6" y="46">Force</text>
<text style="font-family:'Liberation Serif','Times New Roman',serif;font-size:16.6px" x="268.8" y="66.4">Temperature</text>
<text style="font-family:'Liberation Serif','Times New Roman',serif;font-size:20px" x="369" y="75.5">15th</text>
<line x1="383.8" y1="80.0" x2="372.8" y2="97.5" stroke="#000" stroke-width="1.8"/>
<polygon points="367.0,105.0 369.0,94.4 377.0,99.9" fill="#000"/>
</svg>
</body></html>
